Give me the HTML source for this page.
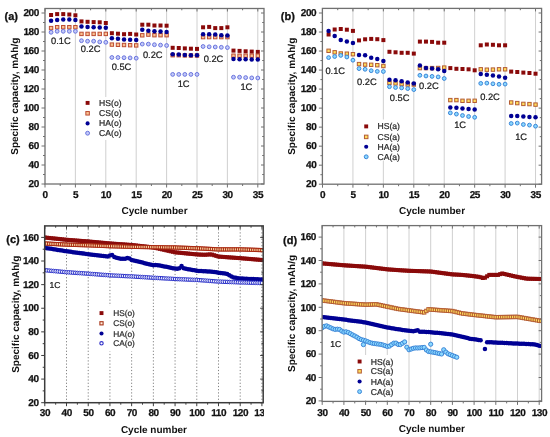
<!DOCTYPE html><html><head><meta charset="utf-8"><style>html,body{margin:0;padding:0;background:#fff}svg{display:block;will-change:transform;text-rendering:geometricPrecision}</style></head><body>
<svg width="550" height="437" viewBox="0 0 550 437" font-family="Liberation Sans, sans-serif">
<rect width="550" height="437" fill="#fff"/>
<line x1="75.4" y1="8.5" x2="75.4" y2="184" stroke="#cbcbcb" stroke-width="0.9"/>
<line x1="105.8" y1="8.5" x2="105.8" y2="184" stroke="#cbcbcb" stroke-width="0.9"/>
<line x1="136.2" y1="8.5" x2="136.2" y2="184" stroke="#cbcbcb" stroke-width="0.9"/>
<line x1="166.6" y1="8.5" x2="166.6" y2="184" stroke="#cbcbcb" stroke-width="0.9"/>
<line x1="197" y1="8.5" x2="197" y2="184" stroke="#cbcbcb" stroke-width="0.9"/>
<line x1="227.4" y1="8.5" x2="227.4" y2="184" stroke="#cbcbcb" stroke-width="0.9"/>
<line x1="257.8" y1="8.5" x2="257.8" y2="184" stroke="#cbcbcb" stroke-width="0.9"/>
<rect x="77" y="97" width="58" height="43" fill="#fff"/>
<rect x="85.65" y="100.95" width="3.9" height="3.9" fill="#8a0a0a"/>
<text x="99.1" y="105.9" font-size="8.6" fill="#2a2a2a" stroke="#2a2a2a" stroke-width="0.22">HS(o)</text>
<rect x="85.85" y="111.55" width="3.5" height="3.5" fill="#f9c292" stroke="#bc4c32" stroke-width="1.0"/>
<text x="99.1" y="116.3" font-size="8.6" fill="#2a2a2a" stroke="#2a2a2a" stroke-width="0.22">CS(o)</text>
<circle cx="87.6" cy="123.4" r="2.05" fill="#000094"/>
<text x="99.1" y="126.4" font-size="8.6" fill="#2a2a2a" stroke="#2a2a2a" stroke-width="0.22">HA(o)</text>
<circle cx="87.6" cy="133.2" r="1.95" fill="#c2c9f8" stroke="#6a74de" stroke-width="1.0"/>
<text x="99.1" y="136.2" font-size="8.6" fill="#2a2a2a" stroke="#2a2a2a" stroke-width="0.22">CA(o)</text>
<rect x="49.08" y="13" width="4" height="4" fill="#8a0a0a"/>
<rect x="55.16" y="12.1" width="4" height="4" fill="#8a0a0a"/>
<rect x="61.24" y="12.1" width="4" height="4" fill="#8a0a0a"/>
<rect x="67.32" y="12.5" width="4" height="4" fill="#8a0a0a"/>
<rect x="73.4" y="13.3" width="4" height="4" fill="#8a0a0a"/>
<rect x="79.48" y="19.4" width="4" height="4" fill="#8a0a0a"/>
<rect x="85.56" y="19.8" width="4" height="4" fill="#8a0a0a"/>
<rect x="91.64" y="20.1" width="4" height="4" fill="#8a0a0a"/>
<rect x="97.72" y="20.3" width="4" height="4" fill="#8a0a0a"/>
<rect x="103.8" y="21" width="4" height="4" fill="#8a0a0a"/>
<rect x="109.88" y="31.2" width="4" height="4" fill="#8a0a0a"/>
<rect x="115.96" y="31.7" width="4" height="4" fill="#8a0a0a"/>
<rect x="122.04" y="32.2" width="4" height="4" fill="#8a0a0a"/>
<rect x="128.12" y="31.9" width="4" height="4" fill="#8a0a0a"/>
<rect x="134.2" y="32.5" width="4" height="4" fill="#8a0a0a"/>
<rect x="140.28" y="22.7" width="4" height="4" fill="#8a0a0a"/>
<rect x="146.36" y="22.7" width="4" height="4" fill="#8a0a0a"/>
<rect x="152.44" y="23.5" width="4" height="4" fill="#8a0a0a"/>
<rect x="158.52" y="23.5" width="4" height="4" fill="#8a0a0a"/>
<rect x="164.6" y="23.7" width="4" height="4" fill="#8a0a0a"/>
<rect x="170.68" y="45.8" width="4" height="4" fill="#8a0a0a"/>
<rect x="176.76" y="46" width="4" height="4" fill="#8a0a0a"/>
<rect x="182.84" y="46.4" width="4" height="4" fill="#8a0a0a"/>
<rect x="188.92" y="46.7" width="4" height="4" fill="#8a0a0a"/>
<rect x="195" y="46.9" width="4" height="4" fill="#8a0a0a"/>
<rect x="201.08" y="25.3" width="4" height="4" fill="#8a0a0a"/>
<rect x="207.16" y="24.9" width="4" height="4" fill="#8a0a0a"/>
<rect x="213.24" y="26.1" width="4" height="4" fill="#8a0a0a"/>
<rect x="219.32" y="26.1" width="4" height="4" fill="#8a0a0a"/>
<rect x="225.4" y="25.3" width="4" height="4" fill="#8a0a0a"/>
<rect x="231.48" y="48.6" width="4" height="4" fill="#8a0a0a"/>
<rect x="237.56" y="48.9" width="4" height="4" fill="#8a0a0a"/>
<rect x="243.64" y="49.3" width="4" height="4" fill="#8a0a0a"/>
<rect x="249.72" y="49.6" width="4" height="4" fill="#8a0a0a"/>
<rect x="255.8" y="49.9" width="4" height="4" fill="#8a0a0a"/>
<rect x="49.38" y="26.4" width="3.4" height="3.4" fill="#f9c292" stroke="#bc4c32" stroke-width="1.0"/>
<rect x="55.46" y="25.5" width="3.4" height="3.4" fill="#f9c292" stroke="#bc4c32" stroke-width="1.0"/>
<rect x="61.54" y="25.5" width="3.4" height="3.4" fill="#f9c292" stroke="#bc4c32" stroke-width="1.0"/>
<rect x="67.62" y="25.5" width="3.4" height="3.4" fill="#f9c292" stroke="#bc4c32" stroke-width="1.0"/>
<rect x="73.7" y="25.5" width="3.4" height="3.4" fill="#f9c292" stroke="#bc4c32" stroke-width="1.0"/>
<rect x="79.78" y="32.2" width="3.4" height="3.4" fill="#f9c292" stroke="#bc4c32" stroke-width="1.0"/>
<rect x="85.86" y="32.2" width="3.4" height="3.4" fill="#f9c292" stroke="#bc4c32" stroke-width="1.0"/>
<rect x="91.94" y="32.2" width="3.4" height="3.4" fill="#f9c292" stroke="#bc4c32" stroke-width="1.0"/>
<rect x="98.02" y="32.2" width="3.4" height="3.4" fill="#f9c292" stroke="#bc4c32" stroke-width="1.0"/>
<rect x="104.1" y="32.2" width="3.4" height="3.4" fill="#f9c292" stroke="#bc4c32" stroke-width="1.0"/>
<rect x="110.18" y="42.9" width="3.4" height="3.4" fill="#f9c292" stroke="#bc4c32" stroke-width="1.0"/>
<rect x="116.26" y="43.1" width="3.4" height="3.4" fill="#f9c292" stroke="#bc4c32" stroke-width="1.0"/>
<rect x="122.34" y="43.3" width="3.4" height="3.4" fill="#f9c292" stroke="#bc4c32" stroke-width="1.0"/>
<rect x="128.42" y="43.5" width="3.4" height="3.4" fill="#f9c292" stroke="#bc4c32" stroke-width="1.0"/>
<rect x="134.5" y="43.7" width="3.4" height="3.4" fill="#f9c292" stroke="#bc4c32" stroke-width="1.0"/>
<rect x="140.58" y="33.6" width="3.4" height="3.4" fill="#f9c292" stroke="#bc4c32" stroke-width="1.0"/>
<rect x="146.66" y="32.9" width="3.4" height="3.4" fill="#f9c292" stroke="#bc4c32" stroke-width="1.0"/>
<rect x="152.74" y="33.5" width="3.4" height="3.4" fill="#f9c292" stroke="#bc4c32" stroke-width="1.0"/>
<rect x="158.82" y="33.5" width="3.4" height="3.4" fill="#f9c292" stroke="#bc4c32" stroke-width="1.0"/>
<rect x="164.9" y="33.5" width="3.4" height="3.4" fill="#f9c292" stroke="#bc4c32" stroke-width="1.0"/>
<rect x="170.98" y="53.5" width="3.4" height="3.4" fill="#f9c292" stroke="#bc4c32" stroke-width="1.0"/>
<rect x="177.06" y="53.5" width="3.4" height="3.4" fill="#f9c292" stroke="#bc4c32" stroke-width="1.0"/>
<rect x="183.14" y="53.7" width="3.4" height="3.4" fill="#f9c292" stroke="#bc4c32" stroke-width="1.0"/>
<rect x="189.22" y="53.8" width="3.4" height="3.4" fill="#f9c292" stroke="#bc4c32" stroke-width="1.0"/>
<rect x="195.3" y="53.8" width="3.4" height="3.4" fill="#f9c292" stroke="#bc4c32" stroke-width="1.0"/>
<rect x="201.38" y="35.4" width="3.4" height="3.4" fill="#f9c292" stroke="#bc4c32" stroke-width="1.0"/>
<rect x="207.46" y="35.4" width="3.4" height="3.4" fill="#f9c292" stroke="#bc4c32" stroke-width="1.0"/>
<rect x="213.54" y="35.4" width="3.4" height="3.4" fill="#f9c292" stroke="#bc4c32" stroke-width="1.0"/>
<rect x="219.62" y="35.4" width="3.4" height="3.4" fill="#f9c292" stroke="#bc4c32" stroke-width="1.0"/>
<rect x="225.7" y="35.4" width="3.4" height="3.4" fill="#f9c292" stroke="#bc4c32" stroke-width="1.0"/>
<rect x="231.78" y="54" width="3.4" height="3.4" fill="#f9c292" stroke="#bc4c32" stroke-width="1.0"/>
<rect x="237.86" y="54" width="3.4" height="3.4" fill="#f9c292" stroke="#bc4c32" stroke-width="1.0"/>
<rect x="243.94" y="54" width="3.4" height="3.4" fill="#f9c292" stroke="#bc4c32" stroke-width="1.0"/>
<rect x="250.02" y="54" width="3.4" height="3.4" fill="#f9c292" stroke="#bc4c32" stroke-width="1.0"/>
<rect x="256.1" y="54" width="3.4" height="3.4" fill="#f9c292" stroke="#bc4c32" stroke-width="1.0"/>
<circle cx="51.08" cy="20.8" r="2.25" fill="#000094"/>
<circle cx="57.16" cy="19.9" r="2.25" fill="#000094"/>
<circle cx="63.24" cy="19.6" r="2.25" fill="#000094"/>
<circle cx="69.32" cy="19.6" r="2.25" fill="#000094"/>
<circle cx="75.4" cy="19.9" r="2.25" fill="#000094"/>
<circle cx="81.48" cy="26.6" r="2.25" fill="#000094"/>
<circle cx="87.56" cy="26.9" r="2.25" fill="#000094"/>
<circle cx="93.64" cy="27.2" r="2.25" fill="#000094"/>
<circle cx="99.72" cy="27.6" r="2.25" fill="#000094"/>
<circle cx="105.8" cy="27.8" r="2.25" fill="#000094"/>
<circle cx="111.88" cy="38.3" r="2.25" fill="#000094"/>
<circle cx="117.96" cy="38.8" r="2.25" fill="#000094"/>
<circle cx="124.04" cy="39.4" r="2.25" fill="#000094"/>
<circle cx="130.12" cy="39.7" r="2.25" fill="#000094"/>
<circle cx="136.2" cy="40" r="2.25" fill="#000094"/>
<circle cx="142.28" cy="29.8" r="2.25" fill="#000094"/>
<circle cx="148.36" cy="30.8" r="2.25" fill="#000094"/>
<circle cx="154.44" cy="31.3" r="2.25" fill="#000094"/>
<circle cx="160.52" cy="31.6" r="2.25" fill="#000094"/>
<circle cx="166.6" cy="32" r="2.25" fill="#000094"/>
<circle cx="172.68" cy="54.3" r="2.25" fill="#000094"/>
<circle cx="178.76" cy="54.5" r="2.25" fill="#000094"/>
<circle cx="184.84" cy="54.9" r="2.25" fill="#000094"/>
<circle cx="190.92" cy="55.2" r="2.25" fill="#000094"/>
<circle cx="197" cy="55.2" r="2.25" fill="#000094"/>
<circle cx="203.08" cy="34.2" r="2.25" fill="#000094"/>
<circle cx="209.16" cy="34.2" r="2.25" fill="#000094"/>
<circle cx="215.24" cy="34.5" r="2.25" fill="#000094"/>
<circle cx="221.32" cy="35.3" r="2.25" fill="#000094"/>
<circle cx="227.4" cy="35.6" r="2.25" fill="#000094"/>
<circle cx="233.48" cy="58.9" r="2.25" fill="#000094"/>
<circle cx="239.56" cy="59.2" r="2.25" fill="#000094"/>
<circle cx="245.64" cy="59.3" r="2.25" fill="#000094"/>
<circle cx="251.72" cy="59.6" r="2.25" fill="#000094"/>
<circle cx="257.8" cy="59.6" r="2.25" fill="#000094"/>
<circle cx="51.08" cy="32.3" r="1.9" fill="#c2c9f8" stroke="#6a74de" stroke-width="1.0"/>
<circle cx="57.16" cy="31.3" r="1.9" fill="#c2c9f8" stroke="#6a74de" stroke-width="1.0"/>
<circle cx="63.24" cy="31.3" r="1.9" fill="#c2c9f8" stroke="#6a74de" stroke-width="1.0"/>
<circle cx="69.32" cy="31.3" r="1.9" fill="#c2c9f8" stroke="#6a74de" stroke-width="1.0"/>
<circle cx="75.4" cy="31.3" r="1.9" fill="#c2c9f8" stroke="#6a74de" stroke-width="1.0"/>
<circle cx="81.48" cy="40.7" r="1.9" fill="#c2c9f8" stroke="#6a74de" stroke-width="1.0"/>
<circle cx="87.56" cy="41.2" r="1.9" fill="#c2c9f8" stroke="#6a74de" stroke-width="1.0"/>
<circle cx="93.64" cy="41.2" r="1.9" fill="#c2c9f8" stroke="#6a74de" stroke-width="1.0"/>
<circle cx="99.72" cy="41.9" r="1.9" fill="#c2c9f8" stroke="#6a74de" stroke-width="1.0"/>
<circle cx="105.8" cy="42.3" r="1.9" fill="#c2c9f8" stroke="#6a74de" stroke-width="1.0"/>
<circle cx="111.88" cy="57.5" r="1.9" fill="#c2c9f8" stroke="#6a74de" stroke-width="1.0"/>
<circle cx="117.96" cy="57.5" r="1.9" fill="#c2c9f8" stroke="#6a74de" stroke-width="1.0"/>
<circle cx="124.04" cy="57.7" r="1.9" fill="#c2c9f8" stroke="#6a74de" stroke-width="1.0"/>
<circle cx="130.12" cy="57.9" r="1.9" fill="#c2c9f8" stroke="#6a74de" stroke-width="1.0"/>
<circle cx="136.2" cy="58.2" r="1.9" fill="#c2c9f8" stroke="#6a74de" stroke-width="1.0"/>
<circle cx="142.28" cy="44.1" r="1.9" fill="#c2c9f8" stroke="#6a74de" stroke-width="1.0"/>
<circle cx="148.36" cy="44.1" r="1.9" fill="#c2c9f8" stroke="#6a74de" stroke-width="1.0"/>
<circle cx="154.44" cy="44.7" r="1.9" fill="#c2c9f8" stroke="#6a74de" stroke-width="1.0"/>
<circle cx="160.52" cy="45.1" r="1.9" fill="#c2c9f8" stroke="#6a74de" stroke-width="1.0"/>
<circle cx="166.6" cy="45.5" r="1.9" fill="#c2c9f8" stroke="#6a74de" stroke-width="1.0"/>
<circle cx="172.68" cy="74.4" r="1.9" fill="#c2c9f8" stroke="#6a74de" stroke-width="1.0"/>
<circle cx="178.76" cy="74.4" r="1.9" fill="#c2c9f8" stroke="#6a74de" stroke-width="1.0"/>
<circle cx="184.84" cy="74.4" r="1.9" fill="#c2c9f8" stroke="#6a74de" stroke-width="1.0"/>
<circle cx="190.92" cy="74.4" r="1.9" fill="#c2c9f8" stroke="#6a74de" stroke-width="1.0"/>
<circle cx="197" cy="74.4" r="1.9" fill="#c2c9f8" stroke="#6a74de" stroke-width="1.0"/>
<circle cx="203.08" cy="46.5" r="1.9" fill="#c2c9f8" stroke="#6a74de" stroke-width="1.0"/>
<circle cx="209.16" cy="46.8" r="1.9" fill="#c2c9f8" stroke="#6a74de" stroke-width="1.0"/>
<circle cx="215.24" cy="47" r="1.9" fill="#c2c9f8" stroke="#6a74de" stroke-width="1.0"/>
<circle cx="221.32" cy="47.3" r="1.9" fill="#c2c9f8" stroke="#6a74de" stroke-width="1.0"/>
<circle cx="227.4" cy="47.6" r="1.9" fill="#c2c9f8" stroke="#6a74de" stroke-width="1.0"/>
<circle cx="233.48" cy="77.2" r="1.9" fill="#c2c9f8" stroke="#6a74de" stroke-width="1.0"/>
<circle cx="239.56" cy="77.2" r="1.9" fill="#c2c9f8" stroke="#6a74de" stroke-width="1.0"/>
<circle cx="245.64" cy="77.6" r="1.9" fill="#c2c9f8" stroke="#6a74de" stroke-width="1.0"/>
<circle cx="251.72" cy="77.9" r="1.9" fill="#c2c9f8" stroke="#6a74de" stroke-width="1.0"/>
<circle cx="257.8" cy="78" r="1.9" fill="#c2c9f8" stroke="#6a74de" stroke-width="1.0"/>
<text x="60.9" y="44" font-size="9.3" text-anchor="middle" fill="#1a1a1a" stroke="#1a1a1a" stroke-width="0.22">0.1C</text>
<text x="90.55" y="52.4" font-size="9.3" text-anchor="middle" fill="#1a1a1a" stroke="#1a1a1a" stroke-width="0.22">0.2C</text>
<text x="121.45" y="69.8" font-size="9.3" text-anchor="middle" fill="#1a1a1a" stroke="#1a1a1a" stroke-width="0.22">0.5C</text>
<text x="152.75" y="57.7" font-size="9.3" text-anchor="middle" fill="#1a1a1a" stroke="#1a1a1a" stroke-width="0.22">0.2C</text>
<text x="183.65" y="86.9" font-size="9.3" text-anchor="middle" fill="#1a1a1a" stroke="#1a1a1a" stroke-width="0.22">1C</text>
<text x="213.5" y="61.8" font-size="9.3" text-anchor="middle" fill="#1a1a1a" stroke="#1a1a1a" stroke-width="0.22">0.2C</text>
<text x="246.4" y="89.8" font-size="9.3" text-anchor="middle" fill="#1a1a1a" stroke="#1a1a1a" stroke-width="0.22">1C</text>
<path d="M41.5,184H45M264,184H261M41.5,165H45M264,165H261M41.5,146H45M264,146H261M41.5,127H45M264,127H261M41.5,108H45M264,108H261M41.5,89H45M264,89H261M41.5,70H45M264,70H261M41.5,51H45M264,51H261M41.5,32H45M264,32H261M41.5,13H45M264,13H261M43,174.5H45M264,174.5H262.2M43,155.5H45M264,155.5H262.2M43,136.5H45M264,136.5H262.2M43,117.5H45M264,117.5H262.2M43,98.5H45M264,98.5H262.2M43,79.5H45M264,79.5H262.2M43,60.5H45M264,60.5H262.2M43,41.5H45M264,41.5H262.2M43,22.5H45M264,22.5H262.2M45,184V187.5M45,8.5V11.5M75.4,184V187.5M75.4,8.5V11.5M105.8,184V187.5M105.8,8.5V11.5M136.2,184V187.5M136.2,8.5V11.5M166.6,184V187.5M166.6,8.5V11.5M197,184V187.5M197,8.5V11.5M227.4,184V187.5M227.4,8.5V11.5M257.8,184V187.5M257.8,8.5V11.5M60.2,184V186M60.2,8.5V10.3M90.6,184V186M90.6,8.5V10.3M121,184V186M121,8.5V10.3M151.4,184V186M151.4,8.5V10.3M181.8,184V186M181.8,8.5V10.3M212.2,184V186M212.2,8.5V10.3M242.6,184V186M242.6,8.5V10.3" stroke="#707070" stroke-width="1" fill="none"/>
<rect x="45" y="8.5" width="219" height="175.5" fill="none" stroke="#707070" stroke-width="1.3"/>
<text x="38.9" y="187.2" font-size="10" font-weight="bold" text-anchor="end" fill="#111" letter-spacing="-0.4" stroke="#111" stroke-width="0.25">20</text>
<text x="38.9" y="168.2" font-size="10" font-weight="bold" text-anchor="end" fill="#111" letter-spacing="-0.4" stroke="#111" stroke-width="0.25">40</text>
<text x="38.9" y="149.2" font-size="10" font-weight="bold" text-anchor="end" fill="#111" letter-spacing="-0.4" stroke="#111" stroke-width="0.25">60</text>
<text x="38.9" y="130.2" font-size="10" font-weight="bold" text-anchor="end" fill="#111" letter-spacing="-0.4" stroke="#111" stroke-width="0.25">80</text>
<text x="38.9" y="111.2" font-size="10" font-weight="bold" text-anchor="end" fill="#111" letter-spacing="-0.4" stroke="#111" stroke-width="0.25">100</text>
<text x="38.9" y="92.2" font-size="10" font-weight="bold" text-anchor="end" fill="#111" letter-spacing="-0.4" stroke="#111" stroke-width="0.25">120</text>
<text x="38.9" y="73.2" font-size="10" font-weight="bold" text-anchor="end" fill="#111" letter-spacing="-0.4" stroke="#111" stroke-width="0.25">140</text>
<text x="38.9" y="54.2" font-size="10" font-weight="bold" text-anchor="end" fill="#111" letter-spacing="-0.4" stroke="#111" stroke-width="0.25">160</text>
<text x="38.9" y="35.2" font-size="10" font-weight="bold" text-anchor="end" fill="#111" letter-spacing="-0.4" stroke="#111" stroke-width="0.25">180</text>
<text x="38.9" y="16.2" font-size="10" font-weight="bold" text-anchor="end" fill="#111" letter-spacing="-0.4" stroke="#111" stroke-width="0.25">200</text>
<text x="45.2" y="197.6" font-size="10" font-weight="bold" text-anchor="middle" fill="#111" letter-spacing="-0.4" stroke="#111" stroke-width="0.25">0</text>
<text x="75.6" y="197.6" font-size="10" font-weight="bold" text-anchor="middle" fill="#111" letter-spacing="-0.4" stroke="#111" stroke-width="0.25">5</text>
<text x="106" y="197.6" font-size="10" font-weight="bold" text-anchor="middle" fill="#111" letter-spacing="-0.4" stroke="#111" stroke-width="0.25">10</text>
<text x="136.4" y="197.6" font-size="10" font-weight="bold" text-anchor="middle" fill="#111" letter-spacing="-0.4" stroke="#111" stroke-width="0.25">15</text>
<text x="166.8" y="197.6" font-size="10" font-weight="bold" text-anchor="middle" fill="#111" letter-spacing="-0.4" stroke="#111" stroke-width="0.25">20</text>
<text x="197.2" y="197.6" font-size="10" font-weight="bold" text-anchor="middle" fill="#111" letter-spacing="-0.4" stroke="#111" stroke-width="0.25">25</text>
<text x="227.6" y="197.6" font-size="10" font-weight="bold" text-anchor="middle" fill="#111" letter-spacing="-0.4" stroke="#111" stroke-width="0.25">30</text>
<text x="258" y="197.6" font-size="10" font-weight="bold" text-anchor="middle" fill="#111" letter-spacing="-0.4" stroke="#111" stroke-width="0.25">35</text>
<text x="4.5" y="19.6" font-size="11" font-weight="bold" text-anchor="start" fill="#111" stroke="#111" stroke-width="0.3">(a)</text>
<text transform="translate(18.3,96.25) rotate(-90)" font-size="10" font-weight="bold" text-anchor="middle" fill="#111">Specific capacity, mAh/g</text>
<text x="154.5" y="214.2" font-size="10" font-weight="bold" text-anchor="middle" fill="#111">Cycle number</text>
<line x1="352.93" y1="8.4" x2="352.93" y2="184.2" stroke="#cbcbcb" stroke-width="0.9"/>
<line x1="383.37" y1="8.4" x2="383.37" y2="184.2" stroke="#cbcbcb" stroke-width="0.9"/>
<line x1="413.8" y1="8.4" x2="413.8" y2="184.2" stroke="#cbcbcb" stroke-width="0.9"/>
<line x1="444.23" y1="8.4" x2="444.23" y2="184.2" stroke="#cbcbcb" stroke-width="0.9"/>
<line x1="474.67" y1="8.4" x2="474.67" y2="184.2" stroke="#cbcbcb" stroke-width="0.9"/>
<line x1="505.1" y1="8.4" x2="505.1" y2="184.2" stroke="#cbcbcb" stroke-width="0.9"/>
<line x1="535.53" y1="8.4" x2="535.53" y2="184.2" stroke="#cbcbcb" stroke-width="0.9"/>
<rect x="355" y="119.5" width="58" height="41.0" fill="#fff"/>
<rect x="364.25" y="124.45" width="3.9" height="3.9" fill="#8a0a0a"/>
<text x="377.5" y="129.4" font-size="8.6" fill="#2a2a2a" stroke="#2a2a2a" stroke-width="0.22">HS(a)</text>
<rect x="364.45" y="135.15" width="3.5" height="3.5" fill="#ffdd5c" stroke="#b45c34" stroke-width="1.0"/>
<text x="377.5" y="139.9" font-size="8.6" fill="#2a2a2a" stroke="#2a2a2a" stroke-width="0.22">CS(a)</text>
<circle cx="366.2" cy="146.8" r="2.05" fill="#000094"/>
<text x="377.5" y="149.8" font-size="8.6" fill="#2a2a2a" stroke="#2a2a2a" stroke-width="0.22">HA(a)</text>
<circle cx="366.2" cy="156.8" r="1.95" fill="#8ad8ff" stroke="#3c86d8" stroke-width="1.0"/>
<text x="377.5" y="159.8" font-size="8.6" fill="#2a2a2a" stroke="#2a2a2a" stroke-width="0.22">CA(a)</text>
<rect x="326.59" y="32.5" width="4" height="4" fill="#8a0a0a"/>
<rect x="332.67" y="27.5" width="4" height="4" fill="#8a0a0a"/>
<rect x="338.76" y="27" width="4" height="4" fill="#8a0a0a"/>
<rect x="344.85" y="27.7" width="4" height="4" fill="#8a0a0a"/>
<rect x="350.93" y="28.9" width="4" height="4" fill="#8a0a0a"/>
<rect x="357.02" y="38.4" width="4" height="4" fill="#8a0a0a"/>
<rect x="363.11" y="37.3" width="4" height="4" fill="#8a0a0a"/>
<rect x="369.19" y="36.9" width="4" height="4" fill="#8a0a0a"/>
<rect x="375.28" y="37.2" width="4" height="4" fill="#8a0a0a"/>
<rect x="381.37" y="38.1" width="4" height="4" fill="#8a0a0a"/>
<rect x="387.45" y="49.8" width="4" height="4" fill="#8a0a0a"/>
<rect x="393.54" y="50.3" width="4" height="4" fill="#8a0a0a"/>
<rect x="399.63" y="50.8" width="4" height="4" fill="#8a0a0a"/>
<rect x="405.71" y="50.8" width="4" height="4" fill="#8a0a0a"/>
<rect x="411.8" y="51.6" width="4" height="4" fill="#8a0a0a"/>
<rect x="417.89" y="39.6" width="4" height="4" fill="#8a0a0a"/>
<rect x="423.97" y="39.6" width="4" height="4" fill="#8a0a0a"/>
<rect x="430.06" y="39.9" width="4" height="4" fill="#8a0a0a"/>
<rect x="436.15" y="40.7" width="4" height="4" fill="#8a0a0a"/>
<rect x="442.23" y="40.7" width="4" height="4" fill="#8a0a0a"/>
<rect x="448.32" y="66.1" width="4" height="4" fill="#8a0a0a"/>
<rect x="454.41" y="66.8" width="4" height="4" fill="#8a0a0a"/>
<rect x="460.49" y="67" width="4" height="4" fill="#8a0a0a"/>
<rect x="466.58" y="67.3" width="4" height="4" fill="#8a0a0a"/>
<rect x="472.67" y="68.3" width="4" height="4" fill="#8a0a0a"/>
<rect x="478.75" y="43.3" width="4" height="4" fill="#8a0a0a"/>
<rect x="484.84" y="42.5" width="4" height="4" fill="#8a0a0a"/>
<rect x="490.93" y="42.8" width="4" height="4" fill="#8a0a0a"/>
<rect x="497.01" y="43.3" width="4" height="4" fill="#8a0a0a"/>
<rect x="503.1" y="43.3" width="4" height="4" fill="#8a0a0a"/>
<rect x="509.19" y="69.6" width="4" height="4" fill="#8a0a0a"/>
<rect x="515.27" y="70" width="4" height="4" fill="#8a0a0a"/>
<rect x="521.36" y="70.6" width="4" height="4" fill="#8a0a0a"/>
<rect x="527.45" y="71" width="4" height="4" fill="#8a0a0a"/>
<rect x="533.53" y="71.7" width="4" height="4" fill="#8a0a0a"/>
<rect x="326.89" y="49.1" width="3.4" height="3.4" fill="#ffdd5c" stroke="#b45c34" stroke-width="1.0"/>
<rect x="332.97" y="50.6" width="3.4" height="3.4" fill="#ffdd5c" stroke="#b45c34" stroke-width="1.0"/>
<rect x="339.06" y="51.8" width="3.4" height="3.4" fill="#ffdd5c" stroke="#b45c34" stroke-width="1.0"/>
<rect x="345.15" y="52" width="3.4" height="3.4" fill="#ffdd5c" stroke="#b45c34" stroke-width="1.0"/>
<rect x="351.23" y="52.5" width="3.4" height="3.4" fill="#ffdd5c" stroke="#b45c34" stroke-width="1.0"/>
<rect x="357.32" y="62.4" width="3.4" height="3.4" fill="#ffdd5c" stroke="#b45c34" stroke-width="1.0"/>
<rect x="363.41" y="62.9" width="3.4" height="3.4" fill="#ffdd5c" stroke="#b45c34" stroke-width="1.0"/>
<rect x="369.49" y="63.1" width="3.4" height="3.4" fill="#ffdd5c" stroke="#b45c34" stroke-width="1.0"/>
<rect x="375.58" y="63.5" width="3.4" height="3.4" fill="#ffdd5c" stroke="#b45c34" stroke-width="1.0"/>
<rect x="381.67" y="64.3" width="3.4" height="3.4" fill="#ffdd5c" stroke="#b45c34" stroke-width="1.0"/>
<rect x="387.75" y="81.1" width="3.4" height="3.4" fill="#ffdd5c" stroke="#b45c34" stroke-width="1.0"/>
<rect x="393.84" y="81.7" width="3.4" height="3.4" fill="#ffdd5c" stroke="#b45c34" stroke-width="1.0"/>
<rect x="399.93" y="82.4" width="3.4" height="3.4" fill="#ffdd5c" stroke="#b45c34" stroke-width="1.0"/>
<rect x="406.01" y="82.8" width="3.4" height="3.4" fill="#ffdd5c" stroke="#b45c34" stroke-width="1.0"/>
<rect x="412.1" y="82.8" width="3.4" height="3.4" fill="#ffdd5c" stroke="#b45c34" stroke-width="1.0"/>
<rect x="418.19" y="66.4" width="3.4" height="3.4" fill="#ffdd5c" stroke="#b45c34" stroke-width="1.0"/>
<rect x="424.27" y="66.4" width="3.4" height="3.4" fill="#ffdd5c" stroke="#b45c34" stroke-width="1.0"/>
<rect x="430.36" y="66.4" width="3.4" height="3.4" fill="#ffdd5c" stroke="#b45c34" stroke-width="1.0"/>
<rect x="436.45" y="66.3" width="3.4" height="3.4" fill="#ffdd5c" stroke="#b45c34" stroke-width="1.0"/>
<rect x="442.53" y="65.9" width="3.4" height="3.4" fill="#ffdd5c" stroke="#b45c34" stroke-width="1.0"/>
<rect x="448.62" y="98.4" width="3.4" height="3.4" fill="#ffdd5c" stroke="#b45c34" stroke-width="1.0"/>
<rect x="454.71" y="98.4" width="3.4" height="3.4" fill="#ffdd5c" stroke="#b45c34" stroke-width="1.0"/>
<rect x="460.79" y="99.1" width="3.4" height="3.4" fill="#ffdd5c" stroke="#b45c34" stroke-width="1.0"/>
<rect x="466.88" y="99.1" width="3.4" height="3.4" fill="#ffdd5c" stroke="#b45c34" stroke-width="1.0"/>
<rect x="472.97" y="99.1" width="3.4" height="3.4" fill="#ffdd5c" stroke="#b45c34" stroke-width="1.0"/>
<rect x="479.05" y="67.6" width="3.4" height="3.4" fill="#ffdd5c" stroke="#b45c34" stroke-width="1.0"/>
<rect x="485.14" y="68" width="3.4" height="3.4" fill="#ffdd5c" stroke="#b45c34" stroke-width="1.0"/>
<rect x="491.23" y="67.9" width="3.4" height="3.4" fill="#ffdd5c" stroke="#b45c34" stroke-width="1.0"/>
<rect x="497.31" y="67.6" width="3.4" height="3.4" fill="#ffdd5c" stroke="#b45c34" stroke-width="1.0"/>
<rect x="503.4" y="67.6" width="3.4" height="3.4" fill="#ffdd5c" stroke="#b45c34" stroke-width="1.0"/>
<rect x="509.49" y="100.8" width="3.4" height="3.4" fill="#ffdd5c" stroke="#b45c34" stroke-width="1.0"/>
<rect x="515.57" y="101.4" width="3.4" height="3.4" fill="#ffdd5c" stroke="#b45c34" stroke-width="1.0"/>
<rect x="521.66" y="102.2" width="3.4" height="3.4" fill="#ffdd5c" stroke="#b45c34" stroke-width="1.0"/>
<rect x="527.75" y="102.4" width="3.4" height="3.4" fill="#ffdd5c" stroke="#b45c34" stroke-width="1.0"/>
<rect x="533.83" y="102.9" width="3.4" height="3.4" fill="#ffdd5c" stroke="#b45c34" stroke-width="1.0"/>
<circle cx="328.59" cy="30.9" r="2.25" fill="#000094"/>
<circle cx="334.67" cy="36" r="2.25" fill="#000094"/>
<circle cx="340.76" cy="39.9" r="2.25" fill="#000094"/>
<circle cx="346.85" cy="41.4" r="2.25" fill="#000094"/>
<circle cx="352.93" cy="43" r="2.25" fill="#000094"/>
<circle cx="359.02" cy="55" r="2.25" fill="#000094"/>
<circle cx="365.11" cy="55.3" r="2.25" fill="#000094"/>
<circle cx="371.19" cy="57.7" r="2.25" fill="#000094"/>
<circle cx="377.28" cy="59.1" r="2.25" fill="#000094"/>
<circle cx="383.37" cy="61" r="2.25" fill="#000094"/>
<circle cx="389.45" cy="79.7" r="2.25" fill="#000094"/>
<circle cx="395.54" cy="80.2" r="2.25" fill="#000094"/>
<circle cx="401.63" cy="81.2" r="2.25" fill="#000094"/>
<circle cx="407.71" cy="82.4" r="2.25" fill="#000094"/>
<circle cx="413.8" cy="83.4" r="2.25" fill="#000094"/>
<circle cx="419.89" cy="65.6" r="2.25" fill="#000094"/>
<circle cx="425.97" cy="68.1" r="2.25" fill="#000094"/>
<circle cx="432.06" cy="68.5" r="2.25" fill="#000094"/>
<circle cx="438.15" cy="69.3" r="2.25" fill="#000094"/>
<circle cx="444.23" cy="71.1" r="2.25" fill="#000094"/>
<circle cx="450.32" cy="107.5" r="2.25" fill="#000094"/>
<circle cx="456.41" cy="107.8" r="2.25" fill="#000094"/>
<circle cx="462.49" cy="108.5" r="2.25" fill="#000094"/>
<circle cx="468.58" cy="109" r="2.25" fill="#000094"/>
<circle cx="474.67" cy="109.6" r="2.25" fill="#000094"/>
<circle cx="480.75" cy="74.1" r="2.25" fill="#000094"/>
<circle cx="486.84" cy="74.8" r="2.25" fill="#000094"/>
<circle cx="492.93" cy="75.4" r="2.25" fill="#000094"/>
<circle cx="499.01" cy="76.5" r="2.25" fill="#000094"/>
<circle cx="505.1" cy="77.7" r="2.25" fill="#000094"/>
<circle cx="511.19" cy="115.9" r="2.25" fill="#000094"/>
<circle cx="517.27" cy="115.9" r="2.25" fill="#000094"/>
<circle cx="523.36" cy="116.5" r="2.25" fill="#000094"/>
<circle cx="529.45" cy="116.9" r="2.25" fill="#000094"/>
<circle cx="535.53" cy="117.3" r="2.25" fill="#000094"/>
<circle cx="328.59" cy="57.6" r="1.9" fill="#8ad8ff" stroke="#3c86d8" stroke-width="1.0"/>
<circle cx="334.67" cy="56.5" r="1.9" fill="#8ad8ff" stroke="#3c86d8" stroke-width="1.0"/>
<circle cx="340.76" cy="55.4" r="1.9" fill="#8ad8ff" stroke="#3c86d8" stroke-width="1.0"/>
<circle cx="346.85" cy="57" r="1.9" fill="#8ad8ff" stroke="#3c86d8" stroke-width="1.0"/>
<circle cx="352.93" cy="60.2" r="1.9" fill="#8ad8ff" stroke="#3c86d8" stroke-width="1.0"/>
<circle cx="359.02" cy="68.6" r="1.9" fill="#8ad8ff" stroke="#3c86d8" stroke-width="1.0"/>
<circle cx="365.11" cy="69.3" r="1.9" fill="#8ad8ff" stroke="#3c86d8" stroke-width="1.0"/>
<circle cx="371.19" cy="70.7" r="1.9" fill="#8ad8ff" stroke="#3c86d8" stroke-width="1.0"/>
<circle cx="377.28" cy="71.4" r="1.9" fill="#8ad8ff" stroke="#3c86d8" stroke-width="1.0"/>
<circle cx="383.37" cy="71.5" r="1.9" fill="#8ad8ff" stroke="#3c86d8" stroke-width="1.0"/>
<circle cx="389.45" cy="86.7" r="1.9" fill="#8ad8ff" stroke="#3c86d8" stroke-width="1.0"/>
<circle cx="395.54" cy="87.5" r="1.9" fill="#8ad8ff" stroke="#3c86d8" stroke-width="1.0"/>
<circle cx="401.63" cy="87.9" r="1.9" fill="#8ad8ff" stroke="#3c86d8" stroke-width="1.0"/>
<circle cx="407.71" cy="88.6" r="1.9" fill="#8ad8ff" stroke="#3c86d8" stroke-width="1.0"/>
<circle cx="413.8" cy="89.6" r="1.9" fill="#8ad8ff" stroke="#3c86d8" stroke-width="1.0"/>
<circle cx="419.89" cy="75.3" r="1.9" fill="#8ad8ff" stroke="#3c86d8" stroke-width="1.0"/>
<circle cx="425.97" cy="76" r="1.9" fill="#8ad8ff" stroke="#3c86d8" stroke-width="1.0"/>
<circle cx="432.06" cy="76.4" r="1.9" fill="#8ad8ff" stroke="#3c86d8" stroke-width="1.0"/>
<circle cx="438.15" cy="76.9" r="1.9" fill="#8ad8ff" stroke="#3c86d8" stroke-width="1.0"/>
<circle cx="444.23" cy="78.5" r="1.9" fill="#8ad8ff" stroke="#3c86d8" stroke-width="1.0"/>
<circle cx="450.32" cy="112.9" r="1.9" fill="#8ad8ff" stroke="#3c86d8" stroke-width="1.0"/>
<circle cx="456.41" cy="114.1" r="1.9" fill="#8ad8ff" stroke="#3c86d8" stroke-width="1.0"/>
<circle cx="462.49" cy="115.5" r="1.9" fill="#8ad8ff" stroke="#3c86d8" stroke-width="1.0"/>
<circle cx="468.58" cy="116.5" r="1.9" fill="#8ad8ff" stroke="#3c86d8" stroke-width="1.0"/>
<circle cx="474.67" cy="117.3" r="1.9" fill="#8ad8ff" stroke="#3c86d8" stroke-width="1.0"/>
<circle cx="480.75" cy="83.4" r="1.9" fill="#8ad8ff" stroke="#3c86d8" stroke-width="1.0"/>
<circle cx="486.84" cy="83.1" r="1.9" fill="#8ad8ff" stroke="#3c86d8" stroke-width="1.0"/>
<circle cx="492.93" cy="83.8" r="1.9" fill="#8ad8ff" stroke="#3c86d8" stroke-width="1.0"/>
<circle cx="499.01" cy="84.3" r="1.9" fill="#8ad8ff" stroke="#3c86d8" stroke-width="1.0"/>
<circle cx="505.1" cy="84.1" r="1.9" fill="#8ad8ff" stroke="#3c86d8" stroke-width="1.0"/>
<circle cx="511.19" cy="123.5" r="1.9" fill="#8ad8ff" stroke="#3c86d8" stroke-width="1.0"/>
<circle cx="517.27" cy="123.1" r="1.9" fill="#8ad8ff" stroke="#3c86d8" stroke-width="1.0"/>
<circle cx="523.36" cy="124.5" r="1.9" fill="#8ad8ff" stroke="#3c86d8" stroke-width="1.0"/>
<circle cx="529.45" cy="125.1" r="1.9" fill="#8ad8ff" stroke="#3c86d8" stroke-width="1.0"/>
<circle cx="535.53" cy="126.2" r="1.9" fill="#8ad8ff" stroke="#3c86d8" stroke-width="1.0"/>
<text x="335.25" y="73.7" font-size="9.3" text-anchor="middle" fill="#1a1a1a" stroke="#1a1a1a" stroke-width="0.22">0.1C</text>
<text x="366.9" y="84.9" font-size="9.3" text-anchor="middle" fill="#1a1a1a" stroke="#1a1a1a" stroke-width="0.22">0.2C</text>
<text x="399.65" y="100.8" font-size="9.3" text-anchor="middle" fill="#1a1a1a" stroke="#1a1a1a" stroke-width="0.22">0.5C</text>
<text x="428.9" y="88.6" font-size="9.3" text-anchor="middle" fill="#1a1a1a" stroke="#1a1a1a" stroke-width="0.22">0.2C</text>
<text x="460.15" y="127.6" font-size="9.3" text-anchor="middle" fill="#1a1a1a" stroke="#1a1a1a" stroke-width="0.22">1C</text>
<text x="490" y="99.8" font-size="9.3" text-anchor="middle" fill="#1a1a1a" stroke="#1a1a1a" stroke-width="0.22">0.2C</text>
<text x="521.15" y="139.6" font-size="9.3" text-anchor="middle" fill="#1a1a1a" stroke="#1a1a1a" stroke-width="0.22">1C</text>
<path d="M318.9,184.2H322.4M541.6,184.2H538.6M318.9,165.18H322.4M541.6,165.18H538.6M318.9,146.16H322.4M541.6,146.16H538.6M318.9,127.13H322.4M541.6,127.13H538.6M318.9,108.11H322.4M541.6,108.11H538.6M318.9,89.09H322.4M541.6,89.09H538.6M318.9,70.07H322.4M541.6,70.07H538.6M318.9,51.04H322.4M541.6,51.04H538.6M318.9,32.02H322.4M541.6,32.02H538.6M318.9,13H322.4M541.6,13H538.6M320.4,174.69H322.4M541.6,174.69H539.8M320.4,155.67H322.4M541.6,155.67H539.8M320.4,136.64H322.4M541.6,136.64H539.8M320.4,117.62H322.4M541.6,117.62H539.8M320.4,98.6H322.4M541.6,98.6H539.8M320.4,79.58H322.4M541.6,79.58H539.8M320.4,60.56H322.4M541.6,60.56H539.8M320.4,41.53H322.4M541.6,41.53H539.8M320.4,22.51H322.4M541.6,22.51H539.8M322.5,184.2V187.7M322.5,8.4V11.4M352.93,184.2V187.7M352.93,8.4V11.4M383.37,184.2V187.7M383.37,8.4V11.4M413.8,184.2V187.7M413.8,8.4V11.4M444.23,184.2V187.7M444.23,8.4V11.4M474.67,184.2V187.7M474.67,8.4V11.4M505.1,184.2V187.7M505.1,8.4V11.4M535.53,184.2V187.7M535.53,8.4V11.4M337.72,184.2V186.2M337.72,8.4V10.2M368.15,184.2V186.2M368.15,8.4V10.2M398.58,184.2V186.2M398.58,8.4V10.2M429.02,184.2V186.2M429.02,8.4V10.2M459.45,184.2V186.2M459.45,8.4V10.2M489.88,184.2V186.2M489.88,8.4V10.2M520.32,184.2V186.2M520.32,8.4V10.2" stroke="#707070" stroke-width="1" fill="none"/>
<rect x="322.4" y="8.4" width="219.2" height="175.8" fill="none" stroke="#707070" stroke-width="1.3"/>
<text x="316.3" y="187.4" font-size="10" font-weight="bold" text-anchor="end" fill="#111" letter-spacing="-0.4" stroke="#111" stroke-width="0.25">20</text>
<text x="316.3" y="168.38" font-size="10" font-weight="bold" text-anchor="end" fill="#111" letter-spacing="-0.4" stroke="#111" stroke-width="0.25">40</text>
<text x="316.3" y="149.36" font-size="10" font-weight="bold" text-anchor="end" fill="#111" letter-spacing="-0.4" stroke="#111" stroke-width="0.25">60</text>
<text x="316.3" y="130.33" font-size="10" font-weight="bold" text-anchor="end" fill="#111" letter-spacing="-0.4" stroke="#111" stroke-width="0.25">80</text>
<text x="316.3" y="111.31" font-size="10" font-weight="bold" text-anchor="end" fill="#111" letter-spacing="-0.4" stroke="#111" stroke-width="0.25">100</text>
<text x="316.3" y="92.29" font-size="10" font-weight="bold" text-anchor="end" fill="#111" letter-spacing="-0.4" stroke="#111" stroke-width="0.25">120</text>
<text x="316.3" y="73.27" font-size="10" font-weight="bold" text-anchor="end" fill="#111" letter-spacing="-0.4" stroke="#111" stroke-width="0.25">140</text>
<text x="316.3" y="54.24" font-size="10" font-weight="bold" text-anchor="end" fill="#111" letter-spacing="-0.4" stroke="#111" stroke-width="0.25">160</text>
<text x="316.3" y="35.22" font-size="10" font-weight="bold" text-anchor="end" fill="#111" letter-spacing="-0.4" stroke="#111" stroke-width="0.25">180</text>
<text x="316.3" y="16.2" font-size="10" font-weight="bold" text-anchor="end" fill="#111" letter-spacing="-0.4" stroke="#111" stroke-width="0.25">200</text>
<text x="322.7" y="197.8" font-size="10" font-weight="bold" text-anchor="middle" fill="#111" letter-spacing="-0.4" stroke="#111" stroke-width="0.25">0</text>
<text x="353.13" y="197.8" font-size="10" font-weight="bold" text-anchor="middle" fill="#111" letter-spacing="-0.4" stroke="#111" stroke-width="0.25">5</text>
<text x="383.57" y="197.8" font-size="10" font-weight="bold" text-anchor="middle" fill="#111" letter-spacing="-0.4" stroke="#111" stroke-width="0.25">10</text>
<text x="414" y="197.8" font-size="10" font-weight="bold" text-anchor="middle" fill="#111" letter-spacing="-0.4" stroke="#111" stroke-width="0.25">15</text>
<text x="444.43" y="197.8" font-size="10" font-weight="bold" text-anchor="middle" fill="#111" letter-spacing="-0.4" stroke="#111" stroke-width="0.25">20</text>
<text x="474.87" y="197.8" font-size="10" font-weight="bold" text-anchor="middle" fill="#111" letter-spacing="-0.4" stroke="#111" stroke-width="0.25">25</text>
<text x="505.3" y="197.8" font-size="10" font-weight="bold" text-anchor="middle" fill="#111" letter-spacing="-0.4" stroke="#111" stroke-width="0.25">30</text>
<text x="535.73" y="197.8" font-size="10" font-weight="bold" text-anchor="middle" fill="#111" letter-spacing="-0.4" stroke="#111" stroke-width="0.25">35</text>
<text x="280.8" y="19.9" font-size="11" font-weight="bold" text-anchor="start" fill="#111" stroke="#111" stroke-width="0.3">(b)</text>
<text transform="translate(295,96.3) rotate(-90)" font-size="10" font-weight="bold" text-anchor="middle" fill="#111">Specific capacity, mAh/g</text>
<text x="432" y="214.2" font-size="10" font-weight="bold" text-anchor="middle" fill="#111">Cycle number</text>
<line x1="66.51" y1="225.9" x2="66.51" y2="402.7" stroke="#808080" stroke-width="1" stroke-dasharray="1.2,2"/>
<line x1="88.22" y1="225.9" x2="88.22" y2="402.7" stroke="#808080" stroke-width="1" stroke-dasharray="1.2,2"/>
<line x1="109.93" y1="225.9" x2="109.93" y2="402.7" stroke="#808080" stroke-width="1" stroke-dasharray="1.2,2"/>
<line x1="131.64" y1="225.9" x2="131.64" y2="402.7" stroke="#808080" stroke-width="1" stroke-dasharray="1.2,2"/>
<line x1="153.36" y1="225.9" x2="153.36" y2="402.7" stroke="#808080" stroke-width="1" stroke-dasharray="1.2,2"/>
<line x1="175.07" y1="225.9" x2="175.07" y2="402.7" stroke="#808080" stroke-width="1" stroke-dasharray="1.2,2"/>
<line x1="196.78" y1="225.9" x2="196.78" y2="402.7" stroke="#808080" stroke-width="1" stroke-dasharray="1.2,2"/>
<line x1="218.49" y1="225.9" x2="218.49" y2="402.7" stroke="#808080" stroke-width="1" stroke-dasharray="1.2,2"/>
<line x1="240.2" y1="225.9" x2="240.2" y2="402.7" stroke="#808080" stroke-width="1" stroke-dasharray="1.2,2"/>
<line x1="261.91" y1="225.9" x2="261.91" y2="402.7" stroke="#808080" stroke-width="1" stroke-dasharray="1.2,2"/>
<rect x="90" y="305.5" width="61" height="46.0" fill="#fff"/>
<rect x="99.55" y="311.15" width="3.9" height="3.9" fill="#8a0a0a"/>
<text x="113.2" y="316.1" font-size="8.3" fill="#2a2a2a" stroke="#2a2a2a" stroke-width="0.22">HS(o)</text>
<rect x="99.9" y="321.7" width="3.2" height="3.2" fill="#fff0e0" stroke="#a83418" stroke-width="1.1"/>
<text x="113.2" y="326.3" font-size="8.3" fill="#2a2a2a" stroke="#2a2a2a" stroke-width="0.22">CS(o)</text>
<circle cx="101.5" cy="333.5" r="2.05" fill="#000094"/>
<text x="113.2" y="336.5" font-size="8.3" fill="#2a2a2a" stroke="#2a2a2a" stroke-width="0.22">HA(o)</text>
<circle cx="101.5" cy="343.3" r="1.7" fill="#fff" stroke="#3030c8" stroke-width="1.1"/>
<text x="113.2" y="346.3" font-size="8.3" fill="#2a2a2a" stroke="#2a2a2a" stroke-width="0.22">CA(o)</text>
<clipPath id="clc"><rect x="44.7" y="225.9" width="218.5" height="176.79999999999998"/></clipPath><g clip-path="url(#clc)">
<rect x="42.8" y="235.5" width="4" height="4" fill="#8a0a0a"/>
<rect x="44.97" y="235.73" width="4" height="4" fill="#8a0a0a"/>
<rect x="47.14" y="235.96" width="4" height="4" fill="#8a0a0a"/>
<rect x="49.31" y="236.19" width="4" height="4" fill="#8a0a0a"/>
<rect x="51.48" y="236.42" width="4" height="4" fill="#8a0a0a"/>
<rect x="53.66" y="236.65" width="4" height="4" fill="#8a0a0a"/>
<rect x="55.83" y="236.87" width="4" height="4" fill="#8a0a0a"/>
<rect x="58" y="237.1" width="4" height="4" fill="#8a0a0a"/>
<rect x="60.17" y="237.33" width="4" height="4" fill="#8a0a0a"/>
<rect x="62.34" y="237.56" width="4" height="4" fill="#8a0a0a"/>
<rect x="64.51" y="237.79" width="4" height="4" fill="#8a0a0a"/>
<rect x="66.68" y="237.96" width="4" height="4" fill="#8a0a0a"/>
<rect x="68.85" y="238.13" width="4" height="4" fill="#8a0a0a"/>
<rect x="71.02" y="238.3" width="4" height="4" fill="#8a0a0a"/>
<rect x="73.2" y="238.47" width="4" height="4" fill="#8a0a0a"/>
<rect x="75.37" y="238.64" width="4" height="4" fill="#8a0a0a"/>
<rect x="77.54" y="238.81" width="4" height="4" fill="#8a0a0a"/>
<rect x="79.71" y="238.98" width="4" height="4" fill="#8a0a0a"/>
<rect x="81.88" y="239.15" width="4" height="4" fill="#8a0a0a"/>
<rect x="84.05" y="239.32" width="4" height="4" fill="#8a0a0a"/>
<rect x="86.22" y="239.49" width="4" height="4" fill="#8a0a0a"/>
<rect x="88.39" y="239.68" width="4" height="4" fill="#8a0a0a"/>
<rect x="90.56" y="239.88" width="4" height="4" fill="#8a0a0a"/>
<rect x="92.74" y="240.08" width="4" height="4" fill="#8a0a0a"/>
<rect x="94.91" y="240.28" width="4" height="4" fill="#8a0a0a"/>
<rect x="97.08" y="240.48" width="4" height="4" fill="#8a0a0a"/>
<rect x="99.25" y="240.67" width="4" height="4" fill="#8a0a0a"/>
<rect x="101.42" y="240.87" width="4" height="4" fill="#8a0a0a"/>
<rect x="103.59" y="241.07" width="4" height="4" fill="#8a0a0a"/>
<rect x="105.76" y="241.27" width="4" height="4" fill="#8a0a0a"/>
<rect x="107.93" y="241.47" width="4" height="4" fill="#8a0a0a"/>
<rect x="110.1" y="241.63" width="4" height="4" fill="#8a0a0a"/>
<rect x="112.28" y="241.78" width="4" height="4" fill="#8a0a0a"/>
<rect x="114.45" y="241.93" width="4" height="4" fill="#8a0a0a"/>
<rect x="116.62" y="242.09" width="4" height="4" fill="#8a0a0a"/>
<rect x="118.79" y="242.24" width="4" height="4" fill="#8a0a0a"/>
<rect x="120.96" y="242.39" width="4" height="4" fill="#8a0a0a"/>
<rect x="123.13" y="242.54" width="4" height="4" fill="#8a0a0a"/>
<rect x="125.3" y="242.7" width="4" height="4" fill="#8a0a0a"/>
<rect x="127.47" y="242.85" width="4" height="4" fill="#8a0a0a"/>
<rect x="129.64" y="243" width="4" height="4" fill="#8a0a0a"/>
<rect x="131.82" y="243.25" width="4" height="4" fill="#8a0a0a"/>
<rect x="133.99" y="243.49" width="4" height="4" fill="#8a0a0a"/>
<rect x="136.16" y="243.74" width="4" height="4" fill="#8a0a0a"/>
<rect x="138.33" y="243.98" width="4" height="4" fill="#8a0a0a"/>
<rect x="140.5" y="244.22" width="4" height="4" fill="#8a0a0a"/>
<rect x="142.67" y="244.47" width="4" height="4" fill="#8a0a0a"/>
<rect x="144.84" y="244.71" width="4" height="4" fill="#8a0a0a"/>
<rect x="147.01" y="244.95" width="4" height="4" fill="#8a0a0a"/>
<rect x="149.18" y="245.2" width="4" height="4" fill="#8a0a0a"/>
<rect x="151.36" y="245.44" width="4" height="4" fill="#8a0a0a"/>
<rect x="153.53" y="245.87" width="4" height="4" fill="#8a0a0a"/>
<rect x="155.7" y="246.36" width="4" height="4" fill="#8a0a0a"/>
<rect x="157.87" y="246.85" width="4" height="4" fill="#8a0a0a"/>
<rect x="160.04" y="247.34" width="4" height="4" fill="#8a0a0a"/>
<rect x="162.21" y="247.83" width="4" height="4" fill="#8a0a0a"/>
<rect x="164.38" y="248.33" width="4" height="4" fill="#8a0a0a"/>
<rect x="166.55" y="248.82" width="4" height="4" fill="#8a0a0a"/>
<rect x="168.72" y="249.31" width="4" height="4" fill="#8a0a0a"/>
<rect x="170.9" y="249.8" width="4" height="4" fill="#8a0a0a"/>
<rect x="173.07" y="250.29" width="4" height="4" fill="#8a0a0a"/>
<rect x="175.24" y="250.51" width="4" height="4" fill="#8a0a0a"/>
<rect x="177.41" y="250.72" width="4" height="4" fill="#8a0a0a"/>
<rect x="179.58" y="250.93" width="4" height="4" fill="#8a0a0a"/>
<rect x="181.75" y="251.15" width="4" height="4" fill="#8a0a0a"/>
<rect x="183.92" y="251.36" width="4" height="4" fill="#8a0a0a"/>
<rect x="186.09" y="251.57" width="4" height="4" fill="#8a0a0a"/>
<rect x="188.26" y="251.78" width="4" height="4" fill="#8a0a0a"/>
<rect x="190.44" y="252" width="4" height="4" fill="#8a0a0a"/>
<rect x="192.61" y="252.21" width="4" height="4" fill="#8a0a0a"/>
<rect x="194.78" y="252.42" width="4" height="4" fill="#8a0a0a"/>
<rect x="196.95" y="252.55" width="4" height="4" fill="#8a0a0a"/>
<rect x="199.12" y="252.64" width="4" height="4" fill="#8a0a0a"/>
<rect x="201.29" y="252.73" width="4" height="4" fill="#8a0a0a"/>
<rect x="203.46" y="252.76" width="4" height="4" fill="#8a0a0a"/>
<rect x="205.63" y="252.58" width="4" height="4" fill="#8a0a0a"/>
<rect x="207.8" y="252.4" width="4" height="4" fill="#8a0a0a"/>
<rect x="209.98" y="252.59" width="4" height="4" fill="#8a0a0a"/>
<rect x="212.15" y="253.24" width="4" height="4" fill="#8a0a0a"/>
<rect x="214.32" y="253.89" width="4" height="4" fill="#8a0a0a"/>
<rect x="216.49" y="254.54" width="4" height="4" fill="#8a0a0a"/>
<rect x="218.66" y="254.74" width="4" height="4" fill="#8a0a0a"/>
<rect x="220.83" y="254.9" width="4" height="4" fill="#8a0a0a"/>
<rect x="223" y="255.06" width="4" height="4" fill="#8a0a0a"/>
<rect x="225.17" y="255.22" width="4" height="4" fill="#8a0a0a"/>
<rect x="227.34" y="255.38" width="4" height="4" fill="#8a0a0a"/>
<rect x="229.52" y="255.54" width="4" height="4" fill="#8a0a0a"/>
<rect x="231.69" y="255.69" width="4" height="4" fill="#8a0a0a"/>
<rect x="233.86" y="255.85" width="4" height="4" fill="#8a0a0a"/>
<rect x="236.03" y="256.01" width="4" height="4" fill="#8a0a0a"/>
<rect x="238.2" y="256.17" width="4" height="4" fill="#8a0a0a"/>
<rect x="240.37" y="256.35" width="4" height="4" fill="#8a0a0a"/>
<rect x="242.54" y="256.53" width="4" height="4" fill="#8a0a0a"/>
<rect x="244.71" y="256.71" width="4" height="4" fill="#8a0a0a"/>
<rect x="246.88" y="256.9" width="4" height="4" fill="#8a0a0a"/>
<rect x="249.06" y="257.08" width="4" height="4" fill="#8a0a0a"/>
<rect x="251.23" y="257.26" width="4" height="4" fill="#8a0a0a"/>
<rect x="253.4" y="257.44" width="4" height="4" fill="#8a0a0a"/>
<rect x="255.57" y="257.63" width="4" height="4" fill="#8a0a0a"/>
<rect x="257.74" y="257.81" width="4" height="4" fill="#8a0a0a"/>
<rect x="259.91" y="257.99" width="4" height="4" fill="#8a0a0a"/>
<rect x="43.2" y="241.9" width="3.2" height="3.2" fill="#f8d6a4" stroke="#a82810" stroke-width="1.0"/>
<rect x="45.37" y="242.01" width="3.2" height="3.2" fill="#f8d6a4" stroke="#a82810" stroke-width="1.0"/>
<rect x="47.54" y="242.12" width="3.2" height="3.2" fill="#f8d6a4" stroke="#a82810" stroke-width="1.0"/>
<rect x="49.71" y="242.23" width="3.2" height="3.2" fill="#f8d6a4" stroke="#a82810" stroke-width="1.0"/>
<rect x="51.88" y="242.34" width="3.2" height="3.2" fill="#f8d6a4" stroke="#a82810" stroke-width="1.0"/>
<rect x="54.06" y="242.45" width="3.2" height="3.2" fill="#f8d6a4" stroke="#a82810" stroke-width="1.0"/>
<rect x="56.23" y="242.56" width="3.2" height="3.2" fill="#f8d6a4" stroke="#a82810" stroke-width="1.0"/>
<rect x="58.4" y="242.67" width="3.2" height="3.2" fill="#f8d6a4" stroke="#a82810" stroke-width="1.0"/>
<rect x="60.57" y="242.78" width="3.2" height="3.2" fill="#f8d6a4" stroke="#a82810" stroke-width="1.0"/>
<rect x="62.74" y="242.89" width="3.2" height="3.2" fill="#f8d6a4" stroke="#a82810" stroke-width="1.0"/>
<rect x="64.91" y="243" width="3.2" height="3.2" fill="#f8d6a4" stroke="#a82810" stroke-width="1.0"/>
<rect x="67.08" y="243.07" width="3.2" height="3.2" fill="#f8d6a4" stroke="#a82810" stroke-width="1.0"/>
<rect x="69.25" y="243.14" width="3.2" height="3.2" fill="#f8d6a4" stroke="#a82810" stroke-width="1.0"/>
<rect x="71.42" y="243.21" width="3.2" height="3.2" fill="#f8d6a4" stroke="#a82810" stroke-width="1.0"/>
<rect x="73.6" y="243.28" width="3.2" height="3.2" fill="#f8d6a4" stroke="#a82810" stroke-width="1.0"/>
<rect x="75.77" y="243.35" width="3.2" height="3.2" fill="#f8d6a4" stroke="#a82810" stroke-width="1.0"/>
<rect x="77.94" y="243.42" width="3.2" height="3.2" fill="#f8d6a4" stroke="#a82810" stroke-width="1.0"/>
<rect x="80.11" y="243.49" width="3.2" height="3.2" fill="#f8d6a4" stroke="#a82810" stroke-width="1.0"/>
<rect x="82.28" y="243.55" width="3.2" height="3.2" fill="#f8d6a4" stroke="#a82810" stroke-width="1.0"/>
<rect x="84.45" y="243.62" width="3.2" height="3.2" fill="#f8d6a4" stroke="#a82810" stroke-width="1.0"/>
<rect x="86.62" y="243.69" width="3.2" height="3.2" fill="#f8d6a4" stroke="#a82810" stroke-width="1.0"/>
<rect x="88.79" y="243.78" width="3.2" height="3.2" fill="#f8d6a4" stroke="#a82810" stroke-width="1.0"/>
<rect x="90.96" y="243.87" width="3.2" height="3.2" fill="#f8d6a4" stroke="#a82810" stroke-width="1.0"/>
<rect x="93.14" y="243.96" width="3.2" height="3.2" fill="#f8d6a4" stroke="#a82810" stroke-width="1.0"/>
<rect x="95.31" y="244.05" width="3.2" height="3.2" fill="#f8d6a4" stroke="#a82810" stroke-width="1.0"/>
<rect x="97.48" y="244.14" width="3.2" height="3.2" fill="#f8d6a4" stroke="#a82810" stroke-width="1.0"/>
<rect x="99.65" y="244.23" width="3.2" height="3.2" fill="#f8d6a4" stroke="#a82810" stroke-width="1.0"/>
<rect x="101.82" y="244.32" width="3.2" height="3.2" fill="#f8d6a4" stroke="#a82810" stroke-width="1.0"/>
<rect x="103.99" y="244.41" width="3.2" height="3.2" fill="#f8d6a4" stroke="#a82810" stroke-width="1.0"/>
<rect x="106.16" y="244.5" width="3.2" height="3.2" fill="#f8d6a4" stroke="#a82810" stroke-width="1.0"/>
<rect x="108.33" y="244.58" width="3.2" height="3.2" fill="#f8d6a4" stroke="#a82810" stroke-width="1.0"/>
<rect x="110.5" y="244.65" width="3.2" height="3.2" fill="#f8d6a4" stroke="#a82810" stroke-width="1.0"/>
<rect x="112.68" y="244.71" width="3.2" height="3.2" fill="#f8d6a4" stroke="#a82810" stroke-width="1.0"/>
<rect x="114.85" y="244.77" width="3.2" height="3.2" fill="#f8d6a4" stroke="#a82810" stroke-width="1.0"/>
<rect x="117.02" y="244.83" width="3.2" height="3.2" fill="#f8d6a4" stroke="#a82810" stroke-width="1.0"/>
<rect x="119.19" y="244.9" width="3.2" height="3.2" fill="#f8d6a4" stroke="#a82810" stroke-width="1.0"/>
<rect x="121.36" y="244.96" width="3.2" height="3.2" fill="#f8d6a4" stroke="#a82810" stroke-width="1.0"/>
<rect x="123.53" y="245.02" width="3.2" height="3.2" fill="#f8d6a4" stroke="#a82810" stroke-width="1.0"/>
<rect x="125.7" y="245.08" width="3.2" height="3.2" fill="#f8d6a4" stroke="#a82810" stroke-width="1.0"/>
<rect x="127.87" y="245.14" width="3.2" height="3.2" fill="#f8d6a4" stroke="#a82810" stroke-width="1.0"/>
<rect x="130.04" y="245.2" width="3.2" height="3.2" fill="#f8d6a4" stroke="#a82810" stroke-width="1.0"/>
<rect x="132.22" y="245.24" width="3.2" height="3.2" fill="#f8d6a4" stroke="#a82810" stroke-width="1.0"/>
<rect x="134.39" y="245.28" width="3.2" height="3.2" fill="#f8d6a4" stroke="#a82810" stroke-width="1.0"/>
<rect x="136.56" y="245.32" width="3.2" height="3.2" fill="#f8d6a4" stroke="#a82810" stroke-width="1.0"/>
<rect x="138.73" y="245.36" width="3.2" height="3.2" fill="#f8d6a4" stroke="#a82810" stroke-width="1.0"/>
<rect x="140.9" y="245.4" width="3.2" height="3.2" fill="#f8d6a4" stroke="#a82810" stroke-width="1.0"/>
<rect x="143.07" y="245.43" width="3.2" height="3.2" fill="#f8d6a4" stroke="#a82810" stroke-width="1.0"/>
<rect x="145.24" y="245.47" width="3.2" height="3.2" fill="#f8d6a4" stroke="#a82810" stroke-width="1.0"/>
<rect x="147.41" y="245.51" width="3.2" height="3.2" fill="#f8d6a4" stroke="#a82810" stroke-width="1.0"/>
<rect x="149.58" y="245.55" width="3.2" height="3.2" fill="#f8d6a4" stroke="#a82810" stroke-width="1.0"/>
<rect x="151.76" y="245.59" width="3.2" height="3.2" fill="#f8d6a4" stroke="#a82810" stroke-width="1.0"/>
<rect x="153.93" y="245.62" width="3.2" height="3.2" fill="#f8d6a4" stroke="#a82810" stroke-width="1.0"/>
<rect x="156.1" y="245.65" width="3.2" height="3.2" fill="#f8d6a4" stroke="#a82810" stroke-width="1.0"/>
<rect x="158.27" y="245.68" width="3.2" height="3.2" fill="#f8d6a4" stroke="#a82810" stroke-width="1.0"/>
<rect x="160.44" y="245.72" width="3.2" height="3.2" fill="#f8d6a4" stroke="#a82810" stroke-width="1.0"/>
<rect x="162.61" y="245.75" width="3.2" height="3.2" fill="#f8d6a4" stroke="#a82810" stroke-width="1.0"/>
<rect x="164.78" y="245.78" width="3.2" height="3.2" fill="#f8d6a4" stroke="#a82810" stroke-width="1.0"/>
<rect x="166.95" y="245.81" width="3.2" height="3.2" fill="#f8d6a4" stroke="#a82810" stroke-width="1.0"/>
<rect x="169.12" y="245.84" width="3.2" height="3.2" fill="#f8d6a4" stroke="#a82810" stroke-width="1.0"/>
<rect x="171.3" y="245.87" width="3.2" height="3.2" fill="#f8d6a4" stroke="#a82810" stroke-width="1.0"/>
<rect x="173.47" y="245.9" width="3.2" height="3.2" fill="#f8d6a4" stroke="#a82810" stroke-width="1.0"/>
<rect x="175.64" y="245.98" width="3.2" height="3.2" fill="#f8d6a4" stroke="#a82810" stroke-width="1.0"/>
<rect x="177.81" y="246.05" width="3.2" height="3.2" fill="#f8d6a4" stroke="#a82810" stroke-width="1.0"/>
<rect x="179.98" y="246.13" width="3.2" height="3.2" fill="#f8d6a4" stroke="#a82810" stroke-width="1.0"/>
<rect x="182.15" y="246.21" width="3.2" height="3.2" fill="#f8d6a4" stroke="#a82810" stroke-width="1.0"/>
<rect x="184.32" y="246.28" width="3.2" height="3.2" fill="#f8d6a4" stroke="#a82810" stroke-width="1.0"/>
<rect x="186.49" y="246.36" width="3.2" height="3.2" fill="#f8d6a4" stroke="#a82810" stroke-width="1.0"/>
<rect x="188.66" y="246.44" width="3.2" height="3.2" fill="#f8d6a4" stroke="#a82810" stroke-width="1.0"/>
<rect x="190.84" y="246.52" width="3.2" height="3.2" fill="#f8d6a4" stroke="#a82810" stroke-width="1.0"/>
<rect x="193.01" y="246.59" width="3.2" height="3.2" fill="#f8d6a4" stroke="#a82810" stroke-width="1.0"/>
<rect x="195.18" y="246.67" width="3.2" height="3.2" fill="#f8d6a4" stroke="#a82810" stroke-width="1.0"/>
<rect x="197.35" y="246.77" width="3.2" height="3.2" fill="#f8d6a4" stroke="#a82810" stroke-width="1.0"/>
<rect x="199.52" y="246.88" width="3.2" height="3.2" fill="#f8d6a4" stroke="#a82810" stroke-width="1.0"/>
<rect x="201.69" y="247" width="3.2" height="3.2" fill="#f8d6a4" stroke="#a82810" stroke-width="1.0"/>
<rect x="203.86" y="247.11" width="3.2" height="3.2" fill="#f8d6a4" stroke="#a82810" stroke-width="1.0"/>
<rect x="206.03" y="247.22" width="3.2" height="3.2" fill="#f8d6a4" stroke="#a82810" stroke-width="1.0"/>
<rect x="208.2" y="247.34" width="3.2" height="3.2" fill="#f8d6a4" stroke="#a82810" stroke-width="1.0"/>
<rect x="210.38" y="247.45" width="3.2" height="3.2" fill="#f8d6a4" stroke="#a82810" stroke-width="1.0"/>
<rect x="212.55" y="247.56" width="3.2" height="3.2" fill="#f8d6a4" stroke="#a82810" stroke-width="1.0"/>
<rect x="214.72" y="247.68" width="3.2" height="3.2" fill="#f8d6a4" stroke="#a82810" stroke-width="1.0"/>
<rect x="216.89" y="247.79" width="3.2" height="3.2" fill="#f8d6a4" stroke="#a82810" stroke-width="1.0"/>
<rect x="219.06" y="247.8" width="3.2" height="3.2" fill="#f8d6a4" stroke="#a82810" stroke-width="1.0"/>
<rect x="221.23" y="247.8" width="3.2" height="3.2" fill="#f8d6a4" stroke="#a82810" stroke-width="1.0"/>
<rect x="223.4" y="247.8" width="3.2" height="3.2" fill="#f8d6a4" stroke="#a82810" stroke-width="1.0"/>
<rect x="225.57" y="247.8" width="3.2" height="3.2" fill="#f8d6a4" stroke="#a82810" stroke-width="1.0"/>
<rect x="227.74" y="247.8" width="3.2" height="3.2" fill="#f8d6a4" stroke="#a82810" stroke-width="1.0"/>
<rect x="229.92" y="247.8" width="3.2" height="3.2" fill="#f8d6a4" stroke="#a82810" stroke-width="1.0"/>
<rect x="232.09" y="247.8" width="3.2" height="3.2" fill="#f8d6a4" stroke="#a82810" stroke-width="1.0"/>
<rect x="234.26" y="247.8" width="3.2" height="3.2" fill="#f8d6a4" stroke="#a82810" stroke-width="1.0"/>
<rect x="236.43" y="247.8" width="3.2" height="3.2" fill="#f8d6a4" stroke="#a82810" stroke-width="1.0"/>
<rect x="238.6" y="247.8" width="3.2" height="3.2" fill="#f8d6a4" stroke="#a82810" stroke-width="1.0"/>
<rect x="240.77" y="247.86" width="3.2" height="3.2" fill="#f8d6a4" stroke="#a82810" stroke-width="1.0"/>
<rect x="242.94" y="247.93" width="3.2" height="3.2" fill="#f8d6a4" stroke="#a82810" stroke-width="1.0"/>
<rect x="245.11" y="248" width="3.2" height="3.2" fill="#f8d6a4" stroke="#a82810" stroke-width="1.0"/>
<rect x="247.28" y="248.07" width="3.2" height="3.2" fill="#f8d6a4" stroke="#a82810" stroke-width="1.0"/>
<rect x="249.46" y="248.14" width="3.2" height="3.2" fill="#f8d6a4" stroke="#a82810" stroke-width="1.0"/>
<rect x="251.63" y="248.21" width="3.2" height="3.2" fill="#f8d6a4" stroke="#a82810" stroke-width="1.0"/>
<rect x="253.8" y="248.28" width="3.2" height="3.2" fill="#f8d6a4" stroke="#a82810" stroke-width="1.0"/>
<rect x="255.97" y="248.36" width="3.2" height="3.2" fill="#f8d6a4" stroke="#a82810" stroke-width="1.0"/>
<rect x="258.14" y="248.43" width="3.2" height="3.2" fill="#f8d6a4" stroke="#a82810" stroke-width="1.0"/>
<rect x="260.31" y="248.5" width="3.2" height="3.2" fill="#f8d6a4" stroke="#a82810" stroke-width="1.0"/>
<circle cx="44.8" cy="247.8" r="2.25" fill="#000094"/>
<circle cx="46.97" cy="248.15" r="2.25" fill="#000094"/>
<circle cx="49.14" cy="248.5" r="2.25" fill="#000094"/>
<circle cx="51.31" cy="248.85" r="2.25" fill="#000094"/>
<circle cx="53.48" cy="249.19" r="2.25" fill="#000094"/>
<circle cx="55.66" cy="249.54" r="2.25" fill="#000094"/>
<circle cx="57.83" cy="249.89" r="2.25" fill="#000094"/>
<circle cx="60" cy="250.24" r="2.25" fill="#000094"/>
<circle cx="62.17" cy="250.59" r="2.25" fill="#000094"/>
<circle cx="64.34" cy="250.94" r="2.25" fill="#000094"/>
<circle cx="66.51" cy="251.29" r="2.25" fill="#000094"/>
<circle cx="68.68" cy="251.58" r="2.25" fill="#000094"/>
<circle cx="70.85" cy="251.87" r="2.25" fill="#000094"/>
<circle cx="73.02" cy="252.15" r="2.25" fill="#000094"/>
<circle cx="75.2" cy="252.44" r="2.25" fill="#000094"/>
<circle cx="77.37" cy="252.73" r="2.25" fill="#000094"/>
<circle cx="79.54" cy="253.02" r="2.25" fill="#000094"/>
<circle cx="81.71" cy="253.31" r="2.25" fill="#000094"/>
<circle cx="83.88" cy="253.6" r="2.25" fill="#000094"/>
<circle cx="86.05" cy="253.89" r="2.25" fill="#000094"/>
<circle cx="88.22" cy="254.18" r="2.25" fill="#000094"/>
<circle cx="90.39" cy="254.43" r="2.25" fill="#000094"/>
<circle cx="92.56" cy="254.69" r="2.25" fill="#000094"/>
<circle cx="94.74" cy="254.94" r="2.25" fill="#000094"/>
<circle cx="96.91" cy="255.2" r="2.25" fill="#000094"/>
<circle cx="99.08" cy="255.45" r="2.25" fill="#000094"/>
<circle cx="101.25" cy="255.71" r="2.25" fill="#000094"/>
<circle cx="103.42" cy="255.96" r="2.25" fill="#000094"/>
<circle cx="105.59" cy="256.22" r="2.25" fill="#000094"/>
<circle cx="107.76" cy="256.47" r="2.25" fill="#000094"/>
<circle cx="109.93" cy="255.4" r="2.25" fill="#000094"/>
<circle cx="112.1" cy="255.02" r="2.25" fill="#000094"/>
<circle cx="114.28" cy="256.88" r="2.25" fill="#000094"/>
<circle cx="116.45" cy="257.83" r="2.25" fill="#000094"/>
<circle cx="118.62" cy="258.33" r="2.25" fill="#000094"/>
<circle cx="120.79" cy="258.8" r="2.25" fill="#000094"/>
<circle cx="122.96" cy="258.8" r="2.25" fill="#000094"/>
<circle cx="125.13" cy="258.8" r="2.25" fill="#000094"/>
<circle cx="127.3" cy="258.09" r="2.25" fill="#000094"/>
<circle cx="129.47" cy="258.45" r="2.25" fill="#000094"/>
<circle cx="131.64" cy="259.96" r="2.25" fill="#000094"/>
<circle cx="133.82" cy="260.49" r="2.25" fill="#000094"/>
<circle cx="135.99" cy="261.02" r="2.25" fill="#000094"/>
<circle cx="138.16" cy="261.55" r="2.25" fill="#000094"/>
<circle cx="140.33" cy="262.08" r="2.25" fill="#000094"/>
<circle cx="142.5" cy="262.61" r="2.25" fill="#000094"/>
<circle cx="144.67" cy="263.14" r="2.25" fill="#000094"/>
<circle cx="146.84" cy="263.67" r="2.25" fill="#000094"/>
<circle cx="149.01" cy="264.21" r="2.25" fill="#000094"/>
<circle cx="151.18" cy="264.74" r="2.25" fill="#000094"/>
<circle cx="153.36" cy="265.27" r="2.25" fill="#000094"/>
<circle cx="155.53" cy="265.09" r="2.25" fill="#000094"/>
<circle cx="157.7" cy="265.14" r="2.25" fill="#000094"/>
<circle cx="159.87" cy="265.57" r="2.25" fill="#000094"/>
<circle cx="162.04" cy="266" r="2.25" fill="#000094"/>
<circle cx="164.21" cy="266.43" r="2.25" fill="#000094"/>
<circle cx="166.38" cy="266.87" r="2.25" fill="#000094"/>
<circle cx="168.55" cy="267.3" r="2.25" fill="#000094"/>
<circle cx="170.72" cy="267.73" r="2.25" fill="#000094"/>
<circle cx="172.9" cy="268.16" r="2.25" fill="#000094"/>
<circle cx="175.07" cy="268.59" r="2.25" fill="#000094"/>
<circle cx="177.24" cy="268.71" r="2.25" fill="#000094"/>
<circle cx="179.41" cy="268.36" r="2.25" fill="#000094"/>
<circle cx="181.58" cy="266.02" r="2.25" fill="#000094"/>
<circle cx="183.75" cy="268.24" r="2.25" fill="#000094"/>
<circle cx="185.92" cy="268.83" r="2.25" fill="#000094"/>
<circle cx="188.09" cy="269.19" r="2.25" fill="#000094"/>
<circle cx="190.26" cy="269.56" r="2.25" fill="#000094"/>
<circle cx="192.44" cy="269.93" r="2.25" fill="#000094"/>
<circle cx="194.61" cy="270.29" r="2.25" fill="#000094"/>
<circle cx="196.78" cy="270.66" r="2.25" fill="#000094"/>
<circle cx="198.95" cy="270.89" r="2.25" fill="#000094"/>
<circle cx="201.12" cy="271.03" r="2.25" fill="#000094"/>
<circle cx="203.29" cy="271.17" r="2.25" fill="#000094"/>
<circle cx="205.46" cy="271.31" r="2.25" fill="#000094"/>
<circle cx="207.63" cy="271.46" r="2.25" fill="#000094"/>
<circle cx="209.8" cy="271.6" r="2.25" fill="#000094"/>
<circle cx="211.98" cy="271.74" r="2.25" fill="#000094"/>
<circle cx="214.15" cy="271.88" r="2.25" fill="#000094"/>
<circle cx="216.32" cy="272.28" r="2.25" fill="#000094"/>
<circle cx="218.49" cy="272.7" r="2.25" fill="#000094"/>
<circle cx="220.66" cy="273.05" r="2.25" fill="#000094"/>
<circle cx="222.83" cy="273.22" r="2.25" fill="#000094"/>
<circle cx="225" cy="273.39" r="2.25" fill="#000094"/>
<circle cx="227.17" cy="273.96" r="2.25" fill="#000094"/>
<circle cx="229.34" cy="275.27" r="2.25" fill="#000094"/>
<circle cx="231.52" cy="276.57" r="2.25" fill="#000094"/>
<circle cx="233.69" cy="277.51" r="2.25" fill="#000094"/>
<circle cx="235.86" cy="277.82" r="2.25" fill="#000094"/>
<circle cx="238.03" cy="278.13" r="2.25" fill="#000094"/>
<circle cx="240.2" cy="278.44" r="2.25" fill="#000094"/>
<circle cx="242.37" cy="278.58" r="2.25" fill="#000094"/>
<circle cx="244.54" cy="278.68" r="2.25" fill="#000094"/>
<circle cx="246.71" cy="278.79" r="2.25" fill="#000094"/>
<circle cx="248.88" cy="278.89" r="2.25" fill="#000094"/>
<circle cx="251.06" cy="278.99" r="2.25" fill="#000094"/>
<circle cx="253.23" cy="279.09" r="2.25" fill="#000094"/>
<circle cx="255.4" cy="279.19" r="2.25" fill="#000094"/>
<circle cx="257.57" cy="279.29" r="2.25" fill="#000094"/>
<circle cx="259.74" cy="279.39" r="2.25" fill="#000094"/>
<circle cx="261.91" cy="279.5" r="2.25" fill="#000094"/>
<circle cx="44.8" cy="270.2" r="1.8" fill="#eef0ff" stroke="#2a30c8" stroke-width="1.0"/>
<circle cx="46.97" cy="270.4" r="1.8" fill="#eef0ff" stroke="#2a30c8" stroke-width="1.0"/>
<circle cx="49.14" cy="270.6" r="1.8" fill="#eef0ff" stroke="#2a30c8" stroke-width="1.0"/>
<circle cx="51.31" cy="270.8" r="1.8" fill="#eef0ff" stroke="#2a30c8" stroke-width="1.0"/>
<circle cx="53.48" cy="271" r="1.8" fill="#eef0ff" stroke="#2a30c8" stroke-width="1.0"/>
<circle cx="55.66" cy="271.2" r="1.8" fill="#eef0ff" stroke="#2a30c8" stroke-width="1.0"/>
<circle cx="57.83" cy="271.4" r="1.8" fill="#eef0ff" stroke="#2a30c8" stroke-width="1.0"/>
<circle cx="60" cy="271.59" r="1.8" fill="#eef0ff" stroke="#2a30c8" stroke-width="1.0"/>
<circle cx="62.17" cy="271.79" r="1.8" fill="#eef0ff" stroke="#2a30c8" stroke-width="1.0"/>
<circle cx="64.34" cy="271.99" r="1.8" fill="#eef0ff" stroke="#2a30c8" stroke-width="1.0"/>
<circle cx="66.51" cy="272.19" r="1.8" fill="#eef0ff" stroke="#2a30c8" stroke-width="1.0"/>
<circle cx="68.68" cy="272.34" r="1.8" fill="#eef0ff" stroke="#2a30c8" stroke-width="1.0"/>
<circle cx="70.85" cy="272.49" r="1.8" fill="#eef0ff" stroke="#2a30c8" stroke-width="1.0"/>
<circle cx="73.02" cy="272.64" r="1.8" fill="#eef0ff" stroke="#2a30c8" stroke-width="1.0"/>
<circle cx="75.2" cy="272.79" r="1.8" fill="#eef0ff" stroke="#2a30c8" stroke-width="1.0"/>
<circle cx="77.37" cy="272.94" r="1.8" fill="#eef0ff" stroke="#2a30c8" stroke-width="1.0"/>
<circle cx="79.54" cy="273.09" r="1.8" fill="#eef0ff" stroke="#2a30c8" stroke-width="1.0"/>
<circle cx="81.71" cy="273.24" r="1.8" fill="#eef0ff" stroke="#2a30c8" stroke-width="1.0"/>
<circle cx="83.88" cy="273.39" r="1.8" fill="#eef0ff" stroke="#2a30c8" stroke-width="1.0"/>
<circle cx="86.05" cy="273.54" r="1.8" fill="#eef0ff" stroke="#2a30c8" stroke-width="1.0"/>
<circle cx="88.22" cy="273.69" r="1.8" fill="#eef0ff" stroke="#2a30c8" stroke-width="1.0"/>
<circle cx="90.39" cy="273.85" r="1.8" fill="#eef0ff" stroke="#2a30c8" stroke-width="1.0"/>
<circle cx="92.56" cy="274.02" r="1.8" fill="#eef0ff" stroke="#2a30c8" stroke-width="1.0"/>
<circle cx="94.74" cy="274.19" r="1.8" fill="#eef0ff" stroke="#2a30c8" stroke-width="1.0"/>
<circle cx="96.91" cy="274.36" r="1.8" fill="#eef0ff" stroke="#2a30c8" stroke-width="1.0"/>
<circle cx="99.08" cy="274.53" r="1.8" fill="#eef0ff" stroke="#2a30c8" stroke-width="1.0"/>
<circle cx="101.25" cy="274.7" r="1.8" fill="#eef0ff" stroke="#2a30c8" stroke-width="1.0"/>
<circle cx="103.42" cy="274.87" r="1.8" fill="#eef0ff" stroke="#2a30c8" stroke-width="1.0"/>
<circle cx="105.59" cy="275.03" r="1.8" fill="#eef0ff" stroke="#2a30c8" stroke-width="1.0"/>
<circle cx="107.76" cy="275.2" r="1.8" fill="#eef0ff" stroke="#2a30c8" stroke-width="1.0"/>
<circle cx="109.93" cy="275.37" r="1.8" fill="#eef0ff" stroke="#2a30c8" stroke-width="1.0"/>
<circle cx="112.1" cy="275.48" r="1.8" fill="#eef0ff" stroke="#2a30c8" stroke-width="1.0"/>
<circle cx="114.28" cy="275.59" r="1.8" fill="#eef0ff" stroke="#2a30c8" stroke-width="1.0"/>
<circle cx="116.45" cy="275.69" r="1.8" fill="#eef0ff" stroke="#2a30c8" stroke-width="1.0"/>
<circle cx="118.62" cy="275.79" r="1.8" fill="#eef0ff" stroke="#2a30c8" stroke-width="1.0"/>
<circle cx="120.79" cy="275.89" r="1.8" fill="#eef0ff" stroke="#2a30c8" stroke-width="1.0"/>
<circle cx="122.96" cy="275.99" r="1.8" fill="#eef0ff" stroke="#2a30c8" stroke-width="1.0"/>
<circle cx="125.13" cy="276.1" r="1.8" fill="#eef0ff" stroke="#2a30c8" stroke-width="1.0"/>
<circle cx="127.3" cy="276.2" r="1.8" fill="#eef0ff" stroke="#2a30c8" stroke-width="1.0"/>
<circle cx="129.47" cy="276.3" r="1.8" fill="#eef0ff" stroke="#2a30c8" stroke-width="1.0"/>
<circle cx="131.64" cy="276.4" r="1.8" fill="#eef0ff" stroke="#2a30c8" stroke-width="1.0"/>
<circle cx="133.82" cy="276.54" r="1.8" fill="#eef0ff" stroke="#2a30c8" stroke-width="1.0"/>
<circle cx="135.99" cy="276.68" r="1.8" fill="#eef0ff" stroke="#2a30c8" stroke-width="1.0"/>
<circle cx="138.16" cy="276.81" r="1.8" fill="#eef0ff" stroke="#2a30c8" stroke-width="1.0"/>
<circle cx="140.33" cy="276.95" r="1.8" fill="#eef0ff" stroke="#2a30c8" stroke-width="1.0"/>
<circle cx="142.5" cy="277.08" r="1.8" fill="#eef0ff" stroke="#2a30c8" stroke-width="1.0"/>
<circle cx="144.67" cy="277.22" r="1.8" fill="#eef0ff" stroke="#2a30c8" stroke-width="1.0"/>
<circle cx="146.84" cy="277.36" r="1.8" fill="#eef0ff" stroke="#2a30c8" stroke-width="1.0"/>
<circle cx="149.01" cy="277.49" r="1.8" fill="#eef0ff" stroke="#2a30c8" stroke-width="1.0"/>
<circle cx="151.18" cy="277.63" r="1.8" fill="#eef0ff" stroke="#2a30c8" stroke-width="1.0"/>
<circle cx="153.36" cy="277.77" r="1.8" fill="#eef0ff" stroke="#2a30c8" stroke-width="1.0"/>
<circle cx="155.53" cy="277.89" r="1.8" fill="#eef0ff" stroke="#2a30c8" stroke-width="1.0"/>
<circle cx="157.7" cy="278.01" r="1.8" fill="#eef0ff" stroke="#2a30c8" stroke-width="1.0"/>
<circle cx="159.87" cy="278.14" r="1.8" fill="#eef0ff" stroke="#2a30c8" stroke-width="1.0"/>
<circle cx="162.04" cy="278.26" r="1.8" fill="#eef0ff" stroke="#2a30c8" stroke-width="1.0"/>
<circle cx="164.21" cy="278.38" r="1.8" fill="#eef0ff" stroke="#2a30c8" stroke-width="1.0"/>
<circle cx="166.38" cy="278.51" r="1.8" fill="#eef0ff" stroke="#2a30c8" stroke-width="1.0"/>
<circle cx="168.55" cy="278.63" r="1.8" fill="#eef0ff" stroke="#2a30c8" stroke-width="1.0"/>
<circle cx="170.72" cy="278.75" r="1.8" fill="#eef0ff" stroke="#2a30c8" stroke-width="1.0"/>
<circle cx="172.9" cy="278.88" r="1.8" fill="#eef0ff" stroke="#2a30c8" stroke-width="1.0"/>
<circle cx="175.07" cy="279" r="1.8" fill="#eef0ff" stroke="#2a30c8" stroke-width="1.0"/>
<circle cx="177.24" cy="279.1" r="1.8" fill="#eef0ff" stroke="#2a30c8" stroke-width="1.0"/>
<circle cx="179.41" cy="279.19" r="1.8" fill="#eef0ff" stroke="#2a30c8" stroke-width="1.0"/>
<circle cx="181.58" cy="279.29" r="1.8" fill="#eef0ff" stroke="#2a30c8" stroke-width="1.0"/>
<circle cx="183.75" cy="279.38" r="1.8" fill="#eef0ff" stroke="#2a30c8" stroke-width="1.0"/>
<circle cx="185.92" cy="279.48" r="1.8" fill="#eef0ff" stroke="#2a30c8" stroke-width="1.0"/>
<circle cx="188.09" cy="279.58" r="1.8" fill="#eef0ff" stroke="#2a30c8" stroke-width="1.0"/>
<circle cx="190.26" cy="279.67" r="1.8" fill="#eef0ff" stroke="#2a30c8" stroke-width="1.0"/>
<circle cx="192.44" cy="279.77" r="1.8" fill="#eef0ff" stroke="#2a30c8" stroke-width="1.0"/>
<circle cx="194.61" cy="279.87" r="1.8" fill="#eef0ff" stroke="#2a30c8" stroke-width="1.0"/>
<circle cx="196.78" cy="279.96" r="1.8" fill="#eef0ff" stroke="#2a30c8" stroke-width="1.0"/>
<circle cx="198.95" cy="280.1" r="1.8" fill="#eef0ff" stroke="#2a30c8" stroke-width="1.0"/>
<circle cx="201.12" cy="280.27" r="1.8" fill="#eef0ff" stroke="#2a30c8" stroke-width="1.0"/>
<circle cx="203.29" cy="280.43" r="1.8" fill="#eef0ff" stroke="#2a30c8" stroke-width="1.0"/>
<circle cx="205.46" cy="280.6" r="1.8" fill="#eef0ff" stroke="#2a30c8" stroke-width="1.0"/>
<circle cx="207.63" cy="280.76" r="1.8" fill="#eef0ff" stroke="#2a30c8" stroke-width="1.0"/>
<circle cx="209.8" cy="280.93" r="1.8" fill="#eef0ff" stroke="#2a30c8" stroke-width="1.0"/>
<circle cx="211.98" cy="281.09" r="1.8" fill="#eef0ff" stroke="#2a30c8" stroke-width="1.0"/>
<circle cx="214.15" cy="281.25" r="1.8" fill="#eef0ff" stroke="#2a30c8" stroke-width="1.0"/>
<circle cx="216.32" cy="281.42" r="1.8" fill="#eef0ff" stroke="#2a30c8" stroke-width="1.0"/>
<circle cx="218.49" cy="281.58" r="1.8" fill="#eef0ff" stroke="#2a30c8" stroke-width="1.0"/>
<circle cx="220.66" cy="281.67" r="1.8" fill="#eef0ff" stroke="#2a30c8" stroke-width="1.0"/>
<circle cx="222.83" cy="281.75" r="1.8" fill="#eef0ff" stroke="#2a30c8" stroke-width="1.0"/>
<circle cx="225" cy="281.83" r="1.8" fill="#eef0ff" stroke="#2a30c8" stroke-width="1.0"/>
<circle cx="227.17" cy="281.91" r="1.8" fill="#eef0ff" stroke="#2a30c8" stroke-width="1.0"/>
<circle cx="229.34" cy="281.99" r="1.8" fill="#eef0ff" stroke="#2a30c8" stroke-width="1.0"/>
<circle cx="231.52" cy="282.07" r="1.8" fill="#eef0ff" stroke="#2a30c8" stroke-width="1.0"/>
<circle cx="233.69" cy="282.15" r="1.8" fill="#eef0ff" stroke="#2a30c8" stroke-width="1.0"/>
<circle cx="235.86" cy="282.23" r="1.8" fill="#eef0ff" stroke="#2a30c8" stroke-width="1.0"/>
<circle cx="238.03" cy="282.31" r="1.8" fill="#eef0ff" stroke="#2a30c8" stroke-width="1.0"/>
<circle cx="240.2" cy="282.39" r="1.8" fill="#eef0ff" stroke="#2a30c8" stroke-width="1.0"/>
<circle cx="242.37" cy="282.45" r="1.8" fill="#eef0ff" stroke="#2a30c8" stroke-width="1.0"/>
<circle cx="244.54" cy="282.51" r="1.8" fill="#eef0ff" stroke="#2a30c8" stroke-width="1.0"/>
<circle cx="246.71" cy="282.57" r="1.8" fill="#eef0ff" stroke="#2a30c8" stroke-width="1.0"/>
<circle cx="248.88" cy="282.63" r="1.8" fill="#eef0ff" stroke="#2a30c8" stroke-width="1.0"/>
<circle cx="251.06" cy="282.69" r="1.8" fill="#eef0ff" stroke="#2a30c8" stroke-width="1.0"/>
<circle cx="253.23" cy="282.75" r="1.8" fill="#eef0ff" stroke="#2a30c8" stroke-width="1.0"/>
<circle cx="255.4" cy="282.81" r="1.8" fill="#eef0ff" stroke="#2a30c8" stroke-width="1.0"/>
<circle cx="257.57" cy="282.88" r="1.8" fill="#eef0ff" stroke="#2a30c8" stroke-width="1.0"/>
<circle cx="259.74" cy="282.94" r="1.8" fill="#eef0ff" stroke="#2a30c8" stroke-width="1.0"/>
<circle cx="261.91" cy="283" r="1.8" fill="#eef0ff" stroke="#2a30c8" stroke-width="1.0"/>
</g>
<text x="55.1" y="288.2" font-size="8.6" text-anchor="middle" fill="#1a1a1a" stroke="#1a1a1a" stroke-width="0.22">1C</text>
<path d="M41.2,402.7H44.7M263.2,402.7H260.2M41.2,379.09H44.7M263.2,379.09H260.2M41.2,355.47H44.7M263.2,355.47H260.2M41.2,331.86H44.7M263.2,331.86H260.2M41.2,308.24H44.7M263.2,308.24H260.2M41.2,284.63H44.7M263.2,284.63H260.2M41.2,261.01H44.7M263.2,261.01H260.2M41.2,237.4H44.7M263.2,237.4H260.2M42.7,390.89H44.7M263.2,390.89H261.4M42.7,367.28H44.7M263.2,367.28H261.4M42.7,343.66H44.7M263.2,343.66H261.4M42.7,320.05H44.7M263.2,320.05H261.4M42.7,296.44H44.7M263.2,296.44H261.4M42.7,272.82H44.7M263.2,272.82H261.4M42.7,249.21H44.7M263.2,249.21H261.4M44.8,402.7V406.2M44.8,225.9V228.9M66.51,402.7V406.2M66.51,225.9V228.9M88.22,402.7V406.2M88.22,225.9V228.9M109.93,402.7V406.2M109.93,225.9V228.9M131.64,402.7V406.2M131.64,225.9V228.9M153.36,402.7V406.2M153.36,225.9V228.9M175.07,402.7V406.2M175.07,225.9V228.9M196.78,402.7V406.2M196.78,225.9V228.9M218.49,402.7V406.2M218.49,225.9V228.9M240.2,402.7V406.2M240.2,225.9V228.9M261.91,402.7V406.2M261.91,225.9V228.9M55.66,402.7V404.7M55.66,225.9V227.7M77.37,402.7V404.7M77.37,225.9V227.7M99.08,402.7V404.7M99.08,225.9V227.7M120.79,402.7V404.7M120.79,225.9V227.7M142.5,402.7V404.7M142.5,225.9V227.7M164.21,402.7V404.7M164.21,225.9V227.7M185.92,402.7V404.7M185.92,225.9V227.7M207.63,402.7V404.7M207.63,225.9V227.7M229.34,402.7V404.7M229.34,225.9V227.7M251.06,402.7V404.7M251.06,225.9V227.7" stroke="#3c3c3c" stroke-width="1" fill="none"/>
<rect x="44.7" y="225.9" width="218.5" height="176.8" fill="none" stroke="#3c3c3c" stroke-width="1.5"/>
<text x="38.6" y="405.9" font-size="10" font-weight="bold" text-anchor="end" fill="#111" letter-spacing="-0.4" stroke="#111" stroke-width="0.25">20</text>
<text x="38.6" y="382.29" font-size="10" font-weight="bold" text-anchor="end" fill="#111" letter-spacing="-0.4" stroke="#111" stroke-width="0.25">40</text>
<text x="38.6" y="358.67" font-size="10" font-weight="bold" text-anchor="end" fill="#111" letter-spacing="-0.4" stroke="#111" stroke-width="0.25">60</text>
<text x="38.6" y="335.06" font-size="10" font-weight="bold" text-anchor="end" fill="#111" letter-spacing="-0.4" stroke="#111" stroke-width="0.25">80</text>
<text x="38.6" y="311.44" font-size="10" font-weight="bold" text-anchor="end" fill="#111" letter-spacing="-0.4" stroke="#111" stroke-width="0.25">100</text>
<text x="38.6" y="287.83" font-size="10" font-weight="bold" text-anchor="end" fill="#111" letter-spacing="-0.4" stroke="#111" stroke-width="0.25">120</text>
<text x="38.6" y="264.21" font-size="10" font-weight="bold" text-anchor="end" fill="#111" letter-spacing="-0.4" stroke="#111" stroke-width="0.25">140</text>
<text x="38.6" y="240.6" font-size="10" font-weight="bold" text-anchor="end" fill="#111" letter-spacing="-0.4" stroke="#111" stroke-width="0.25">160</text>
<text x="45" y="416.2" font-size="10" font-weight="bold" text-anchor="middle" fill="#111" letter-spacing="-0.4" stroke="#111" stroke-width="0.25">30</text>
<text x="66.71" y="416.2" font-size="10" font-weight="bold" text-anchor="middle" fill="#111" letter-spacing="-0.4" stroke="#111" stroke-width="0.25">40</text>
<text x="88.42" y="416.2" font-size="10" font-weight="bold" text-anchor="middle" fill="#111" letter-spacing="-0.4" stroke="#111" stroke-width="0.25">50</text>
<text x="110.13" y="416.2" font-size="10" font-weight="bold" text-anchor="middle" fill="#111" letter-spacing="-0.4" stroke="#111" stroke-width="0.25">60</text>
<text x="131.84" y="416.2" font-size="10" font-weight="bold" text-anchor="middle" fill="#111" letter-spacing="-0.4" stroke="#111" stroke-width="0.25">70</text>
<text x="153.56" y="416.2" font-size="10" font-weight="bold" text-anchor="middle" fill="#111" letter-spacing="-0.4" stroke="#111" stroke-width="0.25">80</text>
<text x="175.27" y="416.2" font-size="10" font-weight="bold" text-anchor="middle" fill="#111" letter-spacing="-0.4" stroke="#111" stroke-width="0.25">90</text>
<text x="196.98" y="416.2" font-size="10" font-weight="bold" text-anchor="middle" fill="#111" letter-spacing="-0.4" stroke="#111" stroke-width="0.25">100</text>
<text x="218.69" y="416.2" font-size="10" font-weight="bold" text-anchor="middle" fill="#111" letter-spacing="-0.4" stroke="#111" stroke-width="0.25">110</text>
<text x="240.4" y="416.2" font-size="10" font-weight="bold" text-anchor="middle" fill="#111" letter-spacing="-0.4" stroke="#111" stroke-width="0.25">120</text>
<text x="262.11" y="416.2" font-size="10" font-weight="bold" text-anchor="middle" fill="#111" letter-spacing="-0.4" stroke="#111" stroke-width="0.25">130</text>
<text x="6.3" y="242.9" font-size="11" font-weight="bold" text-anchor="start" fill="#111" stroke="#111" stroke-width="0.3">(c)</text>
<text transform="translate(18.6,314.3) rotate(-90)" font-size="10" font-weight="bold" text-anchor="middle" fill="#111">Specific capacity, mAh/g</text>
<text x="153.95" y="432.5" font-size="10" font-weight="bold" text-anchor="middle" fill="#111">Cycle number</text>
<rect x="264" y="404" width="14" height="16" fill="#fff"/>
<line x1="343.9" y1="225.6" x2="343.9" y2="401.4" stroke="#cbcbcb" stroke-width="0.9"/>
<line x1="365.6" y1="225.6" x2="365.6" y2="401.4" stroke="#cbcbcb" stroke-width="0.9"/>
<line x1="387.3" y1="225.6" x2="387.3" y2="401.4" stroke="#cbcbcb" stroke-width="0.9"/>
<line x1="409" y1="225.6" x2="409" y2="401.4" stroke="#cbcbcb" stroke-width="0.9"/>
<line x1="430.7" y1="225.6" x2="430.7" y2="401.4" stroke="#cbcbcb" stroke-width="0.9"/>
<line x1="452.4" y1="225.6" x2="452.4" y2="401.4" stroke="#cbcbcb" stroke-width="0.9"/>
<line x1="474.1" y1="225.6" x2="474.1" y2="401.4" stroke="#cbcbcb" stroke-width="0.9"/>
<line x1="495.8" y1="225.6" x2="495.8" y2="401.4" stroke="#cbcbcb" stroke-width="0.9"/>
<line x1="517.5" y1="225.6" x2="517.5" y2="401.4" stroke="#cbcbcb" stroke-width="0.9"/>
<line x1="539.2" y1="225.6" x2="539.2" y2="401.4" stroke="#cbcbcb" stroke-width="0.9"/>
<rect x="345" y="355" width="61" height="45" fill="#fff"/>
<rect x="357.65" y="359.55" width="3.9" height="3.9" fill="#8a0a0a"/>
<text x="370.8" y="364.5" font-size="8.6" fill="#2a2a2a" stroke="#2a2a2a" stroke-width="0.22">HS(a)</text>
<rect x="357.85" y="369.55" width="3.5" height="3.5" fill="#ffdd5c" stroke="#b45c34" stroke-width="1.0"/>
<text x="370.8" y="374.3" font-size="8.6" fill="#2a2a2a" stroke="#2a2a2a" stroke-width="0.22">CS(a)</text>
<circle cx="359.6" cy="381.5" r="2.05" fill="#000094"/>
<text x="370.8" y="384.5" font-size="8.6" fill="#2a2a2a" stroke="#2a2a2a" stroke-width="0.22">HA(a)</text>
<circle cx="359.6" cy="391.6" r="1.95" fill="#8ad8ff" stroke="#3c86d8" stroke-width="1.0"/>
<text x="370.8" y="394.6" font-size="8.6" fill="#2a2a2a" stroke="#2a2a2a" stroke-width="0.22">CA(a)</text>
<clipPath id="cld"><rect x="322.1" y="225.6" width="219.5" height="175.79999999999998"/></clipPath><g clip-path="url(#cld)">
<rect x="320.2" y="261.4" width="4" height="4" fill="#8a0a0a"/>
<rect x="322.37" y="261.59" width="4" height="4" fill="#8a0a0a"/>
<rect x="324.54" y="261.77" width="4" height="4" fill="#8a0a0a"/>
<rect x="326.71" y="261.96" width="4" height="4" fill="#8a0a0a"/>
<rect x="328.88" y="262.15" width="4" height="4" fill="#8a0a0a"/>
<rect x="331.05" y="262.34" width="4" height="4" fill="#8a0a0a"/>
<rect x="333.22" y="262.52" width="4" height="4" fill="#8a0a0a"/>
<rect x="335.39" y="262.71" width="4" height="4" fill="#8a0a0a"/>
<rect x="337.56" y="262.9" width="4" height="4" fill="#8a0a0a"/>
<rect x="339.73" y="263.09" width="4" height="4" fill="#8a0a0a"/>
<rect x="341.9" y="263.27" width="4" height="4" fill="#8a0a0a"/>
<rect x="344.07" y="263.42" width="4" height="4" fill="#8a0a0a"/>
<rect x="346.24" y="263.56" width="4" height="4" fill="#8a0a0a"/>
<rect x="348.41" y="263.7" width="4" height="4" fill="#8a0a0a"/>
<rect x="350.58" y="263.84" width="4" height="4" fill="#8a0a0a"/>
<rect x="352.75" y="263.98" width="4" height="4" fill="#8a0a0a"/>
<rect x="354.92" y="264.12" width="4" height="4" fill="#8a0a0a"/>
<rect x="357.09" y="264.26" width="4" height="4" fill="#8a0a0a"/>
<rect x="359.26" y="264.4" width="4" height="4" fill="#8a0a0a"/>
<rect x="361.43" y="264.53" width="4" height="4" fill="#8a0a0a"/>
<rect x="363.6" y="264.67" width="4" height="4" fill="#8a0a0a"/>
<rect x="365.77" y="264.92" width="4" height="4" fill="#8a0a0a"/>
<rect x="367.94" y="265.19" width="4" height="4" fill="#8a0a0a"/>
<rect x="370.11" y="265.46" width="4" height="4" fill="#8a0a0a"/>
<rect x="372.28" y="265.73" width="4" height="4" fill="#8a0a0a"/>
<rect x="374.45" y="265.99" width="4" height="4" fill="#8a0a0a"/>
<rect x="376.62" y="266.26" width="4" height="4" fill="#8a0a0a"/>
<rect x="378.79" y="266.53" width="4" height="4" fill="#8a0a0a"/>
<rect x="380.96" y="266.8" width="4" height="4" fill="#8a0a0a"/>
<rect x="383.13" y="267.07" width="4" height="4" fill="#8a0a0a"/>
<rect x="385.3" y="267.34" width="4" height="4" fill="#8a0a0a"/>
<rect x="387.47" y="267.51" width="4" height="4" fill="#8a0a0a"/>
<rect x="389.64" y="267.66" width="4" height="4" fill="#8a0a0a"/>
<rect x="391.81" y="267.81" width="4" height="4" fill="#8a0a0a"/>
<rect x="393.98" y="267.96" width="4" height="4" fill="#8a0a0a"/>
<rect x="396.15" y="268.11" width="4" height="4" fill="#8a0a0a"/>
<rect x="398.32" y="268.25" width="4" height="4" fill="#8a0a0a"/>
<rect x="400.49" y="268.39" width="4" height="4" fill="#8a0a0a"/>
<rect x="402.66" y="268.52" width="4" height="4" fill="#8a0a0a"/>
<rect x="404.83" y="268.66" width="4" height="4" fill="#8a0a0a"/>
<rect x="407" y="268.8" width="4" height="4" fill="#8a0a0a"/>
<rect x="409.17" y="268.87" width="4" height="4" fill="#8a0a0a"/>
<rect x="411.34" y="268.94" width="4" height="4" fill="#8a0a0a"/>
<rect x="413.51" y="269.01" width="4" height="4" fill="#8a0a0a"/>
<rect x="415.68" y="269.08" width="4" height="4" fill="#8a0a0a"/>
<rect x="417.85" y="269.15" width="4" height="4" fill="#8a0a0a"/>
<rect x="420.02" y="269.23" width="4" height="4" fill="#8a0a0a"/>
<rect x="422.19" y="269.3" width="4" height="4" fill="#8a0a0a"/>
<rect x="424.36" y="269.37" width="4" height="4" fill="#8a0a0a"/>
<rect x="426.53" y="269.44" width="4" height="4" fill="#8a0a0a"/>
<rect x="428.7" y="269.54" width="4" height="4" fill="#8a0a0a"/>
<rect x="430.87" y="269.82" width="4" height="4" fill="#8a0a0a"/>
<rect x="433.04" y="270.11" width="4" height="4" fill="#8a0a0a"/>
<rect x="435.21" y="270.39" width="4" height="4" fill="#8a0a0a"/>
<rect x="437.38" y="270.68" width="4" height="4" fill="#8a0a0a"/>
<rect x="439.55" y="270.96" width="4" height="4" fill="#8a0a0a"/>
<rect x="441.72" y="271.25" width="4" height="4" fill="#8a0a0a"/>
<rect x="443.89" y="271.53" width="4" height="4" fill="#8a0a0a"/>
<rect x="446.06" y="271.82" width="4" height="4" fill="#8a0a0a"/>
<rect x="448.23" y="272.1" width="4" height="4" fill="#8a0a0a"/>
<rect x="450.4" y="272.39" width="4" height="4" fill="#8a0a0a"/>
<rect x="452.57" y="272.51" width="4" height="4" fill="#8a0a0a"/>
<rect x="454.74" y="272.62" width="4" height="4" fill="#8a0a0a"/>
<rect x="456.91" y="272.74" width="4" height="4" fill="#8a0a0a"/>
<rect x="459.08" y="272.85" width="4" height="4" fill="#8a0a0a"/>
<rect x="461.25" y="273.03" width="4" height="4" fill="#8a0a0a"/>
<rect x="463.42" y="273.25" width="4" height="4" fill="#8a0a0a"/>
<rect x="465.59" y="273.48" width="4" height="4" fill="#8a0a0a"/>
<rect x="467.76" y="273.71" width="4" height="4" fill="#8a0a0a"/>
<rect x="469.93" y="273.93" width="4" height="4" fill="#8a0a0a"/>
<rect x="472.1" y="274.2" width="4" height="4" fill="#8a0a0a"/>
<rect x="474.27" y="274.5" width="4" height="4" fill="#8a0a0a"/>
<rect x="476.44" y="274.79" width="4" height="4" fill="#8a0a0a"/>
<rect x="478.61" y="275.22" width="4" height="4" fill="#8a0a0a"/>
<rect x="480.78" y="276" width="4" height="4" fill="#8a0a0a"/>
<rect x="482.95" y="275.71" width="4" height="4" fill="#8a0a0a"/>
<rect x="485.12" y="274.27" width="4" height="4" fill="#8a0a0a"/>
<rect x="487.29" y="272.9" width="4" height="4" fill="#8a0a0a"/>
<rect x="489.46" y="272.9" width="4" height="4" fill="#8a0a0a"/>
<rect x="491.63" y="272.9" width="4" height="4" fill="#8a0a0a"/>
<rect x="493.8" y="272.9" width="4" height="4" fill="#8a0a0a"/>
<rect x="495.97" y="272.9" width="4" height="4" fill="#8a0a0a"/>
<rect x="498.14" y="272.13" width="4" height="4" fill="#8a0a0a"/>
<rect x="500.31" y="271.47" width="4" height="4" fill="#8a0a0a"/>
<rect x="502.48" y="271.98" width="4" height="4" fill="#8a0a0a"/>
<rect x="504.65" y="272.49" width="4" height="4" fill="#8a0a0a"/>
<rect x="506.82" y="273" width="4" height="4" fill="#8a0a0a"/>
<rect x="508.99" y="273.51" width="4" height="4" fill="#8a0a0a"/>
<rect x="511.16" y="274.02" width="4" height="4" fill="#8a0a0a"/>
<rect x="513.33" y="274.5" width="4" height="4" fill="#8a0a0a"/>
<rect x="515.5" y="274.91" width="4" height="4" fill="#8a0a0a"/>
<rect x="517.67" y="275.33" width="4" height="4" fill="#8a0a0a"/>
<rect x="519.84" y="275.74" width="4" height="4" fill="#8a0a0a"/>
<rect x="522.01" y="276.15" width="4" height="4" fill="#8a0a0a"/>
<rect x="524.18" y="276.56" width="4" height="4" fill="#8a0a0a"/>
<rect x="526.35" y="276.73" width="4" height="4" fill="#8a0a0a"/>
<rect x="528.52" y="276.78" width="4" height="4" fill="#8a0a0a"/>
<rect x="530.69" y="276.82" width="4" height="4" fill="#8a0a0a"/>
<rect x="532.86" y="276.87" width="4" height="4" fill="#8a0a0a"/>
<rect x="535.03" y="276.92" width="4" height="4" fill="#8a0a0a"/>
<rect x="537.2" y="276.96" width="4" height="4" fill="#8a0a0a"/>
<rect x="539.37" y="277" width="4" height="4" fill="#8a0a0a"/>
<rect x="320.5" y="298.7" width="3.4" height="3.4" fill="#ffdd5c" stroke="#b45c34" stroke-width="1.0"/>
<rect x="322.67" y="298.98" width="3.4" height="3.4" fill="#ffdd5c" stroke="#b45c34" stroke-width="1.0"/>
<rect x="324.84" y="299.25" width="3.4" height="3.4" fill="#ffdd5c" stroke="#b45c34" stroke-width="1.0"/>
<rect x="327.01" y="299.53" width="3.4" height="3.4" fill="#ffdd5c" stroke="#b45c34" stroke-width="1.0"/>
<rect x="329.18" y="299.8" width="3.4" height="3.4" fill="#ffdd5c" stroke="#b45c34" stroke-width="1.0"/>
<rect x="331.35" y="300.08" width="3.4" height="3.4" fill="#ffdd5c" stroke="#b45c34" stroke-width="1.0"/>
<rect x="333.52" y="300.36" width="3.4" height="3.4" fill="#ffdd5c" stroke="#b45c34" stroke-width="1.0"/>
<rect x="335.69" y="300.63" width="3.4" height="3.4" fill="#ffdd5c" stroke="#b45c34" stroke-width="1.0"/>
<rect x="337.86" y="300.91" width="3.4" height="3.4" fill="#ffdd5c" stroke="#b45c34" stroke-width="1.0"/>
<rect x="340.03" y="301.19" width="3.4" height="3.4" fill="#ffdd5c" stroke="#b45c34" stroke-width="1.0"/>
<rect x="342.2" y="301.46" width="3.4" height="3.4" fill="#ffdd5c" stroke="#b45c34" stroke-width="1.0"/>
<rect x="344.37" y="301.63" width="3.4" height="3.4" fill="#ffdd5c" stroke="#b45c34" stroke-width="1.0"/>
<rect x="346.54" y="301.78" width="3.4" height="3.4" fill="#ffdd5c" stroke="#b45c34" stroke-width="1.0"/>
<rect x="348.71" y="301.93" width="3.4" height="3.4" fill="#ffdd5c" stroke="#b45c34" stroke-width="1.0"/>
<rect x="350.88" y="302.08" width="3.4" height="3.4" fill="#ffdd5c" stroke="#b45c34" stroke-width="1.0"/>
<rect x="353.05" y="302.23" width="3.4" height="3.4" fill="#ffdd5c" stroke="#b45c34" stroke-width="1.0"/>
<rect x="355.22" y="302.38" width="3.4" height="3.4" fill="#ffdd5c" stroke="#b45c34" stroke-width="1.0"/>
<rect x="357.39" y="302.52" width="3.4" height="3.4" fill="#ffdd5c" stroke="#b45c34" stroke-width="1.0"/>
<rect x="359.56" y="302.67" width="3.4" height="3.4" fill="#ffdd5c" stroke="#b45c34" stroke-width="1.0"/>
<rect x="361.73" y="302.82" width="3.4" height="3.4" fill="#ffdd5c" stroke="#b45c34" stroke-width="1.0"/>
<rect x="363.9" y="302.97" width="3.4" height="3.4" fill="#ffdd5c" stroke="#b45c34" stroke-width="1.0"/>
<rect x="366.07" y="302.93" width="3.4" height="3.4" fill="#ffdd5c" stroke="#b45c34" stroke-width="1.0"/>
<rect x="368.24" y="302.85" width="3.4" height="3.4" fill="#ffdd5c" stroke="#b45c34" stroke-width="1.0"/>
<rect x="370.41" y="302.76" width="3.4" height="3.4" fill="#ffdd5c" stroke="#b45c34" stroke-width="1.0"/>
<rect x="372.58" y="302.68" width="3.4" height="3.4" fill="#ffdd5c" stroke="#b45c34" stroke-width="1.0"/>
<rect x="374.75" y="302.65" width="3.4" height="3.4" fill="#ffdd5c" stroke="#b45c34" stroke-width="1.0"/>
<rect x="376.92" y="303.1" width="3.4" height="3.4" fill="#ffdd5c" stroke="#b45c34" stroke-width="1.0"/>
<rect x="379.09" y="303.55" width="3.4" height="3.4" fill="#ffdd5c" stroke="#b45c34" stroke-width="1.0"/>
<rect x="381.26" y="304" width="3.4" height="3.4" fill="#ffdd5c" stroke="#b45c34" stroke-width="1.0"/>
<rect x="383.43" y="304.45" width="3.4" height="3.4" fill="#ffdd5c" stroke="#b45c34" stroke-width="1.0"/>
<rect x="385.6" y="304.9" width="3.4" height="3.4" fill="#ffdd5c" stroke="#b45c34" stroke-width="1.0"/>
<rect x="387.77" y="305.36" width="3.4" height="3.4" fill="#ffdd5c" stroke="#b45c34" stroke-width="1.0"/>
<rect x="389.94" y="305.83" width="3.4" height="3.4" fill="#ffdd5c" stroke="#b45c34" stroke-width="1.0"/>
<rect x="392.11" y="306.3" width="3.4" height="3.4" fill="#ffdd5c" stroke="#b45c34" stroke-width="1.0"/>
<rect x="394.28" y="306.76" width="3.4" height="3.4" fill="#ffdd5c" stroke="#b45c34" stroke-width="1.0"/>
<rect x="396.45" y="307.22" width="3.4" height="3.4" fill="#ffdd5c" stroke="#b45c34" stroke-width="1.0"/>
<rect x="398.62" y="307.52" width="3.4" height="3.4" fill="#ffdd5c" stroke="#b45c34" stroke-width="1.0"/>
<rect x="400.79" y="307.81" width="3.4" height="3.4" fill="#ffdd5c" stroke="#b45c34" stroke-width="1.0"/>
<rect x="402.96" y="308.11" width="3.4" height="3.4" fill="#ffdd5c" stroke="#b45c34" stroke-width="1.0"/>
<rect x="405.13" y="308.4" width="3.4" height="3.4" fill="#ffdd5c" stroke="#b45c34" stroke-width="1.0"/>
<rect x="407.3" y="308.7" width="3.4" height="3.4" fill="#ffdd5c" stroke="#b45c34" stroke-width="1.0"/>
<rect x="409.47" y="308.98" width="3.4" height="3.4" fill="#ffdd5c" stroke="#b45c34" stroke-width="1.0"/>
<rect x="411.64" y="309.27" width="3.4" height="3.4" fill="#ffdd5c" stroke="#b45c34" stroke-width="1.0"/>
<rect x="413.81" y="309.55" width="3.4" height="3.4" fill="#ffdd5c" stroke="#b45c34" stroke-width="1.0"/>
<rect x="415.98" y="309.84" width="3.4" height="3.4" fill="#ffdd5c" stroke="#b45c34" stroke-width="1.0"/>
<rect x="418.15" y="310.12" width="3.4" height="3.4" fill="#ffdd5c" stroke="#b45c34" stroke-width="1.0"/>
<rect x="420.32" y="310.41" width="3.4" height="3.4" fill="#ffdd5c" stroke="#b45c34" stroke-width="1.0"/>
<rect x="422.49" y="310.69" width="3.4" height="3.4" fill="#ffdd5c" stroke="#b45c34" stroke-width="1.0"/>
<rect x="424.66" y="309.25" width="3.4" height="3.4" fill="#ffdd5c" stroke="#b45c34" stroke-width="1.0"/>
<rect x="426.83" y="307.65" width="3.4" height="3.4" fill="#ffdd5c" stroke="#b45c34" stroke-width="1.0"/>
<rect x="429" y="307.81" width="3.4" height="3.4" fill="#ffdd5c" stroke="#b45c34" stroke-width="1.0"/>
<rect x="431.17" y="307.97" width="3.4" height="3.4" fill="#ffdd5c" stroke="#b45c34" stroke-width="1.0"/>
<rect x="433.34" y="308.13" width="3.4" height="3.4" fill="#ffdd5c" stroke="#b45c34" stroke-width="1.0"/>
<rect x="435.51" y="308.29" width="3.4" height="3.4" fill="#ffdd5c" stroke="#b45c34" stroke-width="1.0"/>
<rect x="437.68" y="308.44" width="3.4" height="3.4" fill="#ffdd5c" stroke="#b45c34" stroke-width="1.0"/>
<rect x="439.85" y="308.6" width="3.4" height="3.4" fill="#ffdd5c" stroke="#b45c34" stroke-width="1.0"/>
<rect x="442.02" y="308.76" width="3.4" height="3.4" fill="#ffdd5c" stroke="#b45c34" stroke-width="1.0"/>
<rect x="444.19" y="308.92" width="3.4" height="3.4" fill="#ffdd5c" stroke="#b45c34" stroke-width="1.0"/>
<rect x="446.36" y="309.08" width="3.4" height="3.4" fill="#ffdd5c" stroke="#b45c34" stroke-width="1.0"/>
<rect x="448.53" y="309.23" width="3.4" height="3.4" fill="#ffdd5c" stroke="#b45c34" stroke-width="1.0"/>
<rect x="450.7" y="309.39" width="3.4" height="3.4" fill="#ffdd5c" stroke="#b45c34" stroke-width="1.0"/>
<rect x="452.87" y="309.9" width="3.4" height="3.4" fill="#ffdd5c" stroke="#b45c34" stroke-width="1.0"/>
<rect x="455.04" y="310.43" width="3.4" height="3.4" fill="#ffdd5c" stroke="#b45c34" stroke-width="1.0"/>
<rect x="457.21" y="310.95" width="3.4" height="3.4" fill="#ffdd5c" stroke="#b45c34" stroke-width="1.0"/>
<rect x="459.38" y="311.48" width="3.4" height="3.4" fill="#ffdd5c" stroke="#b45c34" stroke-width="1.0"/>
<rect x="461.55" y="311.85" width="3.4" height="3.4" fill="#ffdd5c" stroke="#b45c34" stroke-width="1.0"/>
<rect x="463.72" y="312.11" width="3.4" height="3.4" fill="#ffdd5c" stroke="#b45c34" stroke-width="1.0"/>
<rect x="465.89" y="312.38" width="3.4" height="3.4" fill="#ffdd5c" stroke="#b45c34" stroke-width="1.0"/>
<rect x="468.06" y="312.64" width="3.4" height="3.4" fill="#ffdd5c" stroke="#b45c34" stroke-width="1.0"/>
<rect x="470.23" y="312.9" width="3.4" height="3.4" fill="#ffdd5c" stroke="#b45c34" stroke-width="1.0"/>
<rect x="472.4" y="313.16" width="3.4" height="3.4" fill="#ffdd5c" stroke="#b45c34" stroke-width="1.0"/>
<rect x="474.57" y="313.4" width="3.4" height="3.4" fill="#ffdd5c" stroke="#b45c34" stroke-width="1.0"/>
<rect x="476.74" y="313.64" width="3.4" height="3.4" fill="#ffdd5c" stroke="#b45c34" stroke-width="1.0"/>
<rect x="478.91" y="313.88" width="3.4" height="3.4" fill="#ffdd5c" stroke="#b45c34" stroke-width="1.0"/>
<rect x="481.08" y="314.11" width="3.4" height="3.4" fill="#ffdd5c" stroke="#b45c34" stroke-width="1.0"/>
<rect x="483.25" y="314.35" width="3.4" height="3.4" fill="#ffdd5c" stroke="#b45c34" stroke-width="1.0"/>
<rect x="485.42" y="314.59" width="3.4" height="3.4" fill="#ffdd5c" stroke="#b45c34" stroke-width="1.0"/>
<rect x="487.59" y="314.82" width="3.4" height="3.4" fill="#ffdd5c" stroke="#b45c34" stroke-width="1.0"/>
<rect x="489.76" y="315.06" width="3.4" height="3.4" fill="#ffdd5c" stroke="#b45c34" stroke-width="1.0"/>
<rect x="491.93" y="315.3" width="3.4" height="3.4" fill="#ffdd5c" stroke="#b45c34" stroke-width="1.0"/>
<rect x="494.1" y="315.5" width="3.4" height="3.4" fill="#ffdd5c" stroke="#b45c34" stroke-width="1.0"/>
<rect x="496.27" y="315.47" width="3.4" height="3.4" fill="#ffdd5c" stroke="#b45c34" stroke-width="1.0"/>
<rect x="498.44" y="315.44" width="3.4" height="3.4" fill="#ffdd5c" stroke="#b45c34" stroke-width="1.0"/>
<rect x="500.61" y="315.41" width="3.4" height="3.4" fill="#ffdd5c" stroke="#b45c34" stroke-width="1.0"/>
<rect x="502.78" y="315.38" width="3.4" height="3.4" fill="#ffdd5c" stroke="#b45c34" stroke-width="1.0"/>
<rect x="504.95" y="315.35" width="3.4" height="3.4" fill="#ffdd5c" stroke="#b45c34" stroke-width="1.0"/>
<rect x="507.12" y="315.32" width="3.4" height="3.4" fill="#ffdd5c" stroke="#b45c34" stroke-width="1.0"/>
<rect x="509.29" y="315.29" width="3.4" height="3.4" fill="#ffdd5c" stroke="#b45c34" stroke-width="1.0"/>
<rect x="511.46" y="315.26" width="3.4" height="3.4" fill="#ffdd5c" stroke="#b45c34" stroke-width="1.0"/>
<rect x="513.63" y="315.23" width="3.4" height="3.4" fill="#ffdd5c" stroke="#b45c34" stroke-width="1.0"/>
<rect x="515.8" y="315.2" width="3.4" height="3.4" fill="#ffdd5c" stroke="#b45c34" stroke-width="1.0"/>
<rect x="517.97" y="315.58" width="3.4" height="3.4" fill="#ffdd5c" stroke="#b45c34" stroke-width="1.0"/>
<rect x="520.14" y="315.95" width="3.4" height="3.4" fill="#ffdd5c" stroke="#b45c34" stroke-width="1.0"/>
<rect x="522.31" y="316.33" width="3.4" height="3.4" fill="#ffdd5c" stroke="#b45c34" stroke-width="1.0"/>
<rect x="524.48" y="316.71" width="3.4" height="3.4" fill="#ffdd5c" stroke="#b45c34" stroke-width="1.0"/>
<rect x="526.65" y="317.09" width="3.4" height="3.4" fill="#ffdd5c" stroke="#b45c34" stroke-width="1.0"/>
<rect x="528.82" y="317.46" width="3.4" height="3.4" fill="#ffdd5c" stroke="#b45c34" stroke-width="1.0"/>
<rect x="530.99" y="317.84" width="3.4" height="3.4" fill="#ffdd5c" stroke="#b45c34" stroke-width="1.0"/>
<rect x="533.16" y="318.22" width="3.4" height="3.4" fill="#ffdd5c" stroke="#b45c34" stroke-width="1.0"/>
<rect x="535.33" y="318.6" width="3.4" height="3.4" fill="#ffdd5c" stroke="#b45c34" stroke-width="1.0"/>
<rect x="537.5" y="318.97" width="3.4" height="3.4" fill="#ffdd5c" stroke="#b45c34" stroke-width="1.0"/>
<rect x="539.67" y="319.2" width="3.4" height="3.4" fill="#ffdd5c" stroke="#b45c34" stroke-width="1.0"/>
<circle cx="322.2" cy="316.9" r="2.25" fill="#000094"/>
<circle cx="324.37" cy="317.17" r="2.25" fill="#000094"/>
<circle cx="326.54" cy="317.43" r="2.25" fill="#000094"/>
<circle cx="328.71" cy="317.7" r="2.25" fill="#000094"/>
<circle cx="330.88" cy="317.97" r="2.25" fill="#000094"/>
<circle cx="333.05" cy="318.23" r="2.25" fill="#000094"/>
<circle cx="335.22" cy="318.5" r="2.25" fill="#000094"/>
<circle cx="337.39" cy="318.76" r="2.25" fill="#000094"/>
<circle cx="339.56" cy="319.03" r="2.25" fill="#000094"/>
<circle cx="341.73" cy="319.3" r="2.25" fill="#000094"/>
<circle cx="343.9" cy="319.56" r="2.25" fill="#000094"/>
<circle cx="346.07" cy="319.85" r="2.25" fill="#000094"/>
<circle cx="348.24" cy="320.14" r="2.25" fill="#000094"/>
<circle cx="350.41" cy="320.43" r="2.25" fill="#000094"/>
<circle cx="352.58" cy="320.71" r="2.25" fill="#000094"/>
<circle cx="354.75" cy="321" r="2.25" fill="#000094"/>
<circle cx="356.92" cy="321.29" r="2.25" fill="#000094"/>
<circle cx="359.09" cy="321.58" r="2.25" fill="#000094"/>
<circle cx="361.26" cy="321.87" r="2.25" fill="#000094"/>
<circle cx="363.43" cy="322.16" r="2.25" fill="#000094"/>
<circle cx="365.6" cy="322.45" r="2.25" fill="#000094"/>
<circle cx="367.77" cy="322.91" r="2.25" fill="#000094"/>
<circle cx="369.94" cy="323.42" r="2.25" fill="#000094"/>
<circle cx="372.11" cy="323.93" r="2.25" fill="#000094"/>
<circle cx="374.28" cy="324.44" r="2.25" fill="#000094"/>
<circle cx="376.45" cy="324.95" r="2.25" fill="#000094"/>
<circle cx="378.62" cy="325.46" r="2.25" fill="#000094"/>
<circle cx="380.79" cy="325.97" r="2.25" fill="#000094"/>
<circle cx="382.96" cy="326.48" r="2.25" fill="#000094"/>
<circle cx="385.13" cy="326.99" r="2.25" fill="#000094"/>
<circle cx="387.3" cy="327.47" r="2.25" fill="#000094"/>
<circle cx="389.47" cy="327.84" r="2.25" fill="#000094"/>
<circle cx="391.64" cy="328.21" r="2.25" fill="#000094"/>
<circle cx="393.81" cy="328.58" r="2.25" fill="#000094"/>
<circle cx="395.98" cy="328.95" r="2.25" fill="#000094"/>
<circle cx="398.15" cy="329.32" r="2.25" fill="#000094"/>
<circle cx="400.32" cy="329.61" r="2.25" fill="#000094"/>
<circle cx="402.49" cy="329.89" r="2.25" fill="#000094"/>
<circle cx="404.66" cy="330.18" r="2.25" fill="#000094"/>
<circle cx="406.83" cy="330.46" r="2.25" fill="#000094"/>
<circle cx="409" cy="330.75" r="2.25" fill="#000094"/>
<circle cx="411.17" cy="331.03" r="2.25" fill="#000094"/>
<circle cx="413.34" cy="331.32" r="2.25" fill="#000094"/>
<circle cx="415.51" cy="330.69" r="2.25" fill="#000094"/>
<circle cx="417.68" cy="330.15" r="2.25" fill="#000094"/>
<circle cx="419.85" cy="331.64" r="2.25" fill="#000094"/>
<circle cx="422.02" cy="331.75" r="2.25" fill="#000094"/>
<circle cx="424.19" cy="331.87" r="2.25" fill="#000094"/>
<circle cx="426.36" cy="331.98" r="2.25" fill="#000094"/>
<circle cx="428.53" cy="332.09" r="2.25" fill="#000094"/>
<circle cx="430.7" cy="332.2" r="2.25" fill="#000094"/>
<circle cx="432.87" cy="332.42" r="2.25" fill="#000094"/>
<circle cx="435.04" cy="332.64" r="2.25" fill="#000094"/>
<circle cx="437.21" cy="332.86" r="2.25" fill="#000094"/>
<circle cx="439.38" cy="333.08" r="2.25" fill="#000094"/>
<circle cx="441.55" cy="333.29" r="2.25" fill="#000094"/>
<circle cx="443.72" cy="333.51" r="2.25" fill="#000094"/>
<circle cx="445.89" cy="333.73" r="2.25" fill="#000094"/>
<circle cx="448.06" cy="333.95" r="2.25" fill="#000094"/>
<circle cx="450.23" cy="334.17" r="2.25" fill="#000094"/>
<circle cx="452.4" cy="334.39" r="2.25" fill="#000094"/>
<circle cx="454.57" cy="334.91" r="2.25" fill="#000094"/>
<circle cx="456.74" cy="335.44" r="2.25" fill="#000094"/>
<circle cx="458.91" cy="335.98" r="2.25" fill="#000094"/>
<circle cx="461.08" cy="336.51" r="2.25" fill="#000094"/>
<circle cx="463.25" cy="337.04" r="2.25" fill="#000094"/>
<circle cx="465.42" cy="337.57" r="2.25" fill="#000094"/>
<circle cx="467.59" cy="338.11" r="2.25" fill="#000094"/>
<circle cx="469.76" cy="338.64" r="2.25" fill="#000094"/>
<circle cx="471.93" cy="338.98" r="2.25" fill="#000094"/>
<circle cx="474.1" cy="339.29" r="2.25" fill="#000094"/>
<circle cx="476.27" cy="339.61" r="2.25" fill="#000094"/>
<circle cx="478.44" cy="339.92" r="2.25" fill="#000094"/>
<circle cx="480.61" cy="340.24" r="2.25" fill="#000094"/>
<circle cx="487.12" cy="342.15" r="2.25" fill="#000094"/>
<circle cx="489.29" cy="342.25" r="2.25" fill="#000094"/>
<circle cx="491.46" cy="342.36" r="2.25" fill="#000094"/>
<circle cx="493.63" cy="342.46" r="2.25" fill="#000094"/>
<circle cx="495.8" cy="342.56" r="2.25" fill="#000094"/>
<circle cx="497.97" cy="342.67" r="2.25" fill="#000094"/>
<circle cx="500.14" cy="342.77" r="2.25" fill="#000094"/>
<circle cx="502.31" cy="342.87" r="2.25" fill="#000094"/>
<circle cx="504.48" cy="342.98" r="2.25" fill="#000094"/>
<circle cx="506.65" cy="343.08" r="2.25" fill="#000094"/>
<circle cx="508.82" cy="343.19" r="2.25" fill="#000094"/>
<circle cx="510.99" cy="343.29" r="2.25" fill="#000094"/>
<circle cx="513.16" cy="343.39" r="2.25" fill="#000094"/>
<circle cx="515.33" cy="343.5" r="2.25" fill="#000094"/>
<circle cx="517.5" cy="343.6" r="2.25" fill="#000094"/>
<circle cx="519.67" cy="343.69" r="2.25" fill="#000094"/>
<circle cx="521.84" cy="343.78" r="2.25" fill="#000094"/>
<circle cx="524.01" cy="343.87" r="2.25" fill="#000094"/>
<circle cx="526.18" cy="343.96" r="2.25" fill="#000094"/>
<circle cx="528.35" cy="344.05" r="2.25" fill="#000094"/>
<circle cx="530.52" cy="344.14" r="2.25" fill="#000094"/>
<circle cx="532.69" cy="344.23" r="2.25" fill="#000094"/>
<circle cx="534.86" cy="344.44" r="2.25" fill="#000094"/>
<circle cx="537.03" cy="345.08" r="2.25" fill="#000094"/>
<circle cx="539.2" cy="345.72" r="2.25" fill="#000094"/>
<circle cx="541.37" cy="346.1" r="2.25" fill="#000094"/>
<circle cx="322.2" cy="327.8" r="2.1" fill="#8ad8ff" stroke="#3c86d8" stroke-width="1.0"/>
<circle cx="324.37" cy="326.41" r="2.1" fill="#8ad8ff" stroke="#3c86d8" stroke-width="1.0"/>
<circle cx="326.54" cy="325.86" r="2.1" fill="#8ad8ff" stroke="#3c86d8" stroke-width="1.0"/>
<circle cx="328.71" cy="326.9" r="2.1" fill="#8ad8ff" stroke="#3c86d8" stroke-width="1.0"/>
<circle cx="330.88" cy="327.88" r="2.1" fill="#8ad8ff" stroke="#3c86d8" stroke-width="1.0"/>
<circle cx="333.05" cy="328.85" r="2.1" fill="#8ad8ff" stroke="#3c86d8" stroke-width="1.0"/>
<circle cx="335.22" cy="329.42" r="2.1" fill="#8ad8ff" stroke="#3c86d8" stroke-width="1.0"/>
<circle cx="337.39" cy="329.17" r="2.1" fill="#8ad8ff" stroke="#3c86d8" stroke-width="1.0"/>
<circle cx="339.56" cy="329.48" r="2.1" fill="#8ad8ff" stroke="#3c86d8" stroke-width="1.0"/>
<circle cx="341.73" cy="331.06" r="2.1" fill="#8ad8ff" stroke="#3c86d8" stroke-width="1.0"/>
<circle cx="343.9" cy="332.12" r="2.1" fill="#8ad8ff" stroke="#3c86d8" stroke-width="1.0"/>
<circle cx="346.07" cy="331.82" r="2.1" fill="#8ad8ff" stroke="#3c86d8" stroke-width="1.0"/>
<circle cx="348.24" cy="332.46" r="2.1" fill="#8ad8ff" stroke="#3c86d8" stroke-width="1.0"/>
<circle cx="350.41" cy="333.7" r="2.1" fill="#8ad8ff" stroke="#3c86d8" stroke-width="1.0"/>
<circle cx="352.58" cy="334.89" r="2.1" fill="#8ad8ff" stroke="#3c86d8" stroke-width="1.0"/>
<circle cx="354.75" cy="335.98" r="2.1" fill="#8ad8ff" stroke="#3c86d8" stroke-width="1.0"/>
<circle cx="356.92" cy="337.15" r="2.1" fill="#8ad8ff" stroke="#3c86d8" stroke-width="1.0"/>
<circle cx="359.09" cy="338.59" r="2.1" fill="#8ad8ff" stroke="#3c86d8" stroke-width="1.0"/>
<circle cx="361.26" cy="339.57" r="2.1" fill="#8ad8ff" stroke="#3c86d8" stroke-width="1.0"/>
<circle cx="363.43" cy="340.2" r="2.1" fill="#8ad8ff" stroke="#3c86d8" stroke-width="1.0"/>
<circle cx="365.6" cy="340.84" r="2.1" fill="#8ad8ff" stroke="#3c86d8" stroke-width="1.0"/>
<circle cx="367.77" cy="341.72" r="2.1" fill="#8ad8ff" stroke="#3c86d8" stroke-width="1.0"/>
<circle cx="369.94" cy="342.61" r="2.1" fill="#8ad8ff" stroke="#3c86d8" stroke-width="1.0"/>
<circle cx="372.11" cy="343.18" r="2.1" fill="#8ad8ff" stroke="#3c86d8" stroke-width="1.0"/>
<circle cx="374.28" cy="343.5" r="2.1" fill="#8ad8ff" stroke="#3c86d8" stroke-width="1.0"/>
<circle cx="376.45" cy="343.81" r="2.1" fill="#8ad8ff" stroke="#3c86d8" stroke-width="1.0"/>
<circle cx="378.62" cy="344.13" r="2.1" fill="#8ad8ff" stroke="#3c86d8" stroke-width="1.0"/>
<circle cx="380.79" cy="344.45" r="2.1" fill="#8ad8ff" stroke="#3c86d8" stroke-width="1.0"/>
<circle cx="382.96" cy="344.99" r="2.1" fill="#8ad8ff" stroke="#3c86d8" stroke-width="1.0"/>
<circle cx="385.13" cy="345.71" r="2.1" fill="#8ad8ff" stroke="#3c86d8" stroke-width="1.0"/>
<circle cx="387.3" cy="346.43" r="2.1" fill="#8ad8ff" stroke="#3c86d8" stroke-width="1.0"/>
<circle cx="389.47" cy="346.08" r="2.1" fill="#8ad8ff" stroke="#3c86d8" stroke-width="1.0"/>
<circle cx="391.64" cy="344.61" r="2.1" fill="#8ad8ff" stroke="#3c86d8" stroke-width="1.0"/>
<circle cx="393.81" cy="343.14" r="2.1" fill="#8ad8ff" stroke="#3c86d8" stroke-width="1.0"/>
<circle cx="395.98" cy="343.09" r="2.1" fill="#8ad8ff" stroke="#3c86d8" stroke-width="1.0"/>
<circle cx="398.15" cy="344.47" r="2.1" fill="#8ad8ff" stroke="#3c86d8" stroke-width="1.0"/>
<circle cx="400.32" cy="344.58" r="2.1" fill="#8ad8ff" stroke="#3c86d8" stroke-width="1.0"/>
<circle cx="402.49" cy="343.25" r="2.1" fill="#8ad8ff" stroke="#3c86d8" stroke-width="1.0"/>
<circle cx="404.66" cy="341.92" r="2.1" fill="#8ad8ff" stroke="#3c86d8" stroke-width="1.0"/>
<circle cx="406.83" cy="347.19" r="2.1" fill="#8ad8ff" stroke="#3c86d8" stroke-width="1.0"/>
<circle cx="409" cy="349.76" r="2.1" fill="#8ad8ff" stroke="#3c86d8" stroke-width="1.0"/>
<circle cx="411.17" cy="349.03" r="2.1" fill="#8ad8ff" stroke="#3c86d8" stroke-width="1.0"/>
<circle cx="413.34" cy="348.29" r="2.1" fill="#8ad8ff" stroke="#3c86d8" stroke-width="1.0"/>
<circle cx="415.51" cy="347.93" r="2.1" fill="#8ad8ff" stroke="#3c86d8" stroke-width="1.0"/>
<circle cx="417.68" cy="347.99" r="2.1" fill="#8ad8ff" stroke="#3c86d8" stroke-width="1.0"/>
<circle cx="419.85" cy="347.82" r="2.1" fill="#8ad8ff" stroke="#3c86d8" stroke-width="1.0"/>
<circle cx="422.02" cy="347.61" r="2.1" fill="#8ad8ff" stroke="#3c86d8" stroke-width="1.0"/>
<circle cx="424.19" cy="347.4" r="2.1" fill="#8ad8ff" stroke="#3c86d8" stroke-width="1.0"/>
<circle cx="426.36" cy="349.95" r="2.1" fill="#8ad8ff" stroke="#3c86d8" stroke-width="1.0"/>
<circle cx="428.53" cy="351.47" r="2.1" fill="#8ad8ff" stroke="#3c86d8" stroke-width="1.0"/>
<circle cx="430.7" cy="351.84" r="2.1" fill="#8ad8ff" stroke="#3c86d8" stroke-width="1.0"/>
<circle cx="432.87" cy="352.21" r="2.1" fill="#8ad8ff" stroke="#3c86d8" stroke-width="1.0"/>
<circle cx="435.04" cy="352.62" r="2.1" fill="#8ad8ff" stroke="#3c86d8" stroke-width="1.0"/>
<circle cx="437.21" cy="353.08" r="2.1" fill="#8ad8ff" stroke="#3c86d8" stroke-width="1.0"/>
<circle cx="439.38" cy="353.53" r="2.1" fill="#8ad8ff" stroke="#3c86d8" stroke-width="1.0"/>
<circle cx="441.55" cy="353.99" r="2.1" fill="#8ad8ff" stroke="#3c86d8" stroke-width="1.0"/>
<circle cx="443.72" cy="349.76" r="2.1" fill="#8ad8ff" stroke="#3c86d8" stroke-width="1.0"/>
<circle cx="445.89" cy="352.08" r="2.1" fill="#8ad8ff" stroke="#3c86d8" stroke-width="1.0"/>
<circle cx="448.06" cy="353.82" r="2.1" fill="#8ad8ff" stroke="#3c86d8" stroke-width="1.0"/>
<circle cx="450.23" cy="354.67" r="2.1" fill="#8ad8ff" stroke="#3c86d8" stroke-width="1.0"/>
<circle cx="452.4" cy="355.53" r="2.1" fill="#8ad8ff" stroke="#3c86d8" stroke-width="1.0"/>
<circle cx="454.57" cy="356.38" r="2.1" fill="#8ad8ff" stroke="#3c86d8" stroke-width="1.0"/>
<circle cx="456.74" cy="357.24" r="2.1" fill="#8ad8ff" stroke="#3c86d8" stroke-width="1.0"/>
<circle cx="484.95" cy="348.9" r="2.25" fill="#000094"/>
<circle cx="363.43" cy="344.6" r="2.1" fill="#8ad8ff" stroke="#3c86d8" stroke-width="1.0"/>
<circle cx="430.7" cy="344.2" r="2.1" fill="#8ad8ff" stroke="#3c86d8" stroke-width="1.0"/>
</g>
<text x="335.65" y="347.3" font-size="8.6" text-anchor="middle" fill="#1a1a1a" stroke="#1a1a1a" stroke-width="0.22">1C</text>
<path d="M318.6,400.9H322.1M541.6,400.9H538.6M318.6,377.5H322.1M541.6,377.5H538.6M318.6,354.1H322.1M541.6,354.1H538.6M318.6,330.7H322.1M541.6,330.7H538.6M318.6,307.3H322.1M541.6,307.3H538.6M318.6,283.9H322.1M541.6,283.9H538.6M318.6,260.5H322.1M541.6,260.5H538.6M318.6,237.1H322.1M541.6,237.1H538.6M320.1,389.2H322.1M541.6,389.2H539.8M320.1,365.8H322.1M541.6,365.8H539.8M320.1,342.4H322.1M541.6,342.4H539.8M320.1,319H322.1M541.6,319H539.8M320.1,295.6H322.1M541.6,295.6H539.8M320.1,272.2H322.1M541.6,272.2H539.8M320.1,248.8H322.1M541.6,248.8H539.8M322.2,401.4V404.9M322.2,225.6V228.6M343.9,401.4V404.9M343.9,225.6V228.6M365.6,401.4V404.9M365.6,225.6V228.6M387.3,401.4V404.9M387.3,225.6V228.6M409,401.4V404.9M409,225.6V228.6M430.7,401.4V404.9M430.7,225.6V228.6M452.4,401.4V404.9M452.4,225.6V228.6M474.1,401.4V404.9M474.1,225.6V228.6M495.8,401.4V404.9M495.8,225.6V228.6M517.5,401.4V404.9M517.5,225.6V228.6M539.2,401.4V404.9M539.2,225.6V228.6M333.05,401.4V403.4M333.05,225.6V227.4M354.75,401.4V403.4M354.75,225.6V227.4M376.45,401.4V403.4M376.45,225.6V227.4M398.15,401.4V403.4M398.15,225.6V227.4M419.85,401.4V403.4M419.85,225.6V227.4M441.55,401.4V403.4M441.55,225.6V227.4M463.25,401.4V403.4M463.25,225.6V227.4M484.95,401.4V403.4M484.95,225.6V227.4M506.65,401.4V403.4M506.65,225.6V227.4M528.35,401.4V403.4M528.35,225.6V227.4" stroke="#707070" stroke-width="1" fill="none"/>
<rect x="322.1" y="225.6" width="219.5" height="175.8" fill="none" stroke="#707070" stroke-width="1.3"/>
<text x="316" y="404.1" font-size="10" font-weight="bold" text-anchor="end" fill="#111" letter-spacing="-0.4" stroke="#111" stroke-width="0.25">20</text>
<text x="316" y="380.7" font-size="10" font-weight="bold" text-anchor="end" fill="#111" letter-spacing="-0.4" stroke="#111" stroke-width="0.25">40</text>
<text x="316" y="357.3" font-size="10" font-weight="bold" text-anchor="end" fill="#111" letter-spacing="-0.4" stroke="#111" stroke-width="0.25">60</text>
<text x="316" y="333.9" font-size="10" font-weight="bold" text-anchor="end" fill="#111" letter-spacing="-0.4" stroke="#111" stroke-width="0.25">80</text>
<text x="316" y="310.5" font-size="10" font-weight="bold" text-anchor="end" fill="#111" letter-spacing="-0.4" stroke="#111" stroke-width="0.25">100</text>
<text x="316" y="287.1" font-size="10" font-weight="bold" text-anchor="end" fill="#111" letter-spacing="-0.4" stroke="#111" stroke-width="0.25">120</text>
<text x="316" y="263.7" font-size="10" font-weight="bold" text-anchor="end" fill="#111" letter-spacing="-0.4" stroke="#111" stroke-width="0.25">140</text>
<text x="316" y="240.3" font-size="10" font-weight="bold" text-anchor="end" fill="#111" letter-spacing="-0.4" stroke="#111" stroke-width="0.25">160</text>
<text x="322.4" y="415.6" font-size="10" font-weight="bold" text-anchor="middle" fill="#111" letter-spacing="-0.4" stroke="#111" stroke-width="0.25">30</text>
<text x="344.1" y="415.6" font-size="10" font-weight="bold" text-anchor="middle" fill="#111" letter-spacing="-0.4" stroke="#111" stroke-width="0.25">40</text>
<text x="365.8" y="415.6" font-size="10" font-weight="bold" text-anchor="middle" fill="#111" letter-spacing="-0.4" stroke="#111" stroke-width="0.25">50</text>
<text x="387.5" y="415.6" font-size="10" font-weight="bold" text-anchor="middle" fill="#111" letter-spacing="-0.4" stroke="#111" stroke-width="0.25">60</text>
<text x="409.2" y="415.6" font-size="10" font-weight="bold" text-anchor="middle" fill="#111" letter-spacing="-0.4" stroke="#111" stroke-width="0.25">70</text>
<text x="430.9" y="415.6" font-size="10" font-weight="bold" text-anchor="middle" fill="#111" letter-spacing="-0.4" stroke="#111" stroke-width="0.25">80</text>
<text x="452.6" y="415.6" font-size="10" font-weight="bold" text-anchor="middle" fill="#111" letter-spacing="-0.4" stroke="#111" stroke-width="0.25">90</text>
<text x="474.3" y="415.6" font-size="10" font-weight="bold" text-anchor="middle" fill="#111" letter-spacing="-0.4" stroke="#111" stroke-width="0.25">100</text>
<text x="496" y="415.6" font-size="10" font-weight="bold" text-anchor="middle" fill="#111" letter-spacing="-0.4" stroke="#111" stroke-width="0.25">110</text>
<text x="517.7" y="415.6" font-size="10" font-weight="bold" text-anchor="middle" fill="#111" letter-spacing="-0.4" stroke="#111" stroke-width="0.25">120</text>
<text x="539.4" y="415.6" font-size="10" font-weight="bold" text-anchor="middle" fill="#111" letter-spacing="-0.4" stroke="#111" stroke-width="0.25">130</text>
<text x="283" y="244.2" font-size="11" font-weight="bold" text-anchor="start" fill="#111" stroke="#111" stroke-width="0.3">(d)</text>
<text transform="translate(295.3,313.5) rotate(-90)" font-size="10" font-weight="bold" text-anchor="middle" fill="#111">Specific capacity, mAh/g</text>
<text x="431.85" y="431.6" font-size="10" font-weight="bold" text-anchor="middle" fill="#111">Cycle number</text>
</svg></body></html>
